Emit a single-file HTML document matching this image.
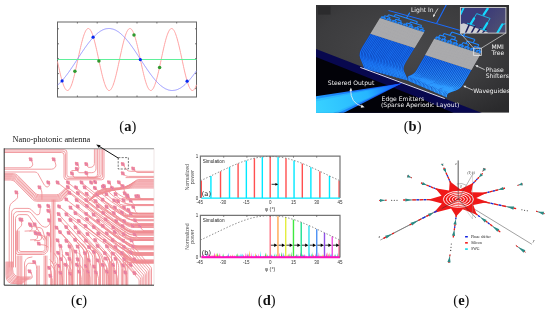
<!DOCTYPE html>
<html><head><meta charset="utf-8"><title>Figure</title>
<style>
html,body{margin:0;padding:0;background:#fff;}
svg{display:block}
.dv{font-family:"DejaVu Sans","Liberation Sans",sans-serif}
.ls{font-family:"Liberation Sans",sans-serif}
.lr{font-family:"Liberation Serif",serif}
</style></head><body>
<svg width="550" height="313" viewBox="0 0 550 313">
<rect width="550" height="313" fill="#fff"/>
<rect x="57.5" y="22" width="139.0" height="75" fill="#fff" stroke="#666" stroke-width="1"/>
<path d="M77.4 22v1.5M77.4 97v-1.5" stroke="#555" stroke-width="0.8"/>
<path d="M97.2 22v1.5M97.2 97v-1.5" stroke="#555" stroke-width="0.8"/>
<path d="M117.1 22v1.5M117.1 97v-1.5" stroke="#555" stroke-width="0.8"/>
<path d="M137.0 22v1.5M137.0 97v-1.5" stroke="#555" stroke-width="0.8"/>
<path d="M156.9 22v1.5M156.9 97v-1.5" stroke="#555" stroke-width="0.8"/>
<path d="M176.7 22v1.5M176.7 97v-1.5" stroke="#555" stroke-width="0.8"/>
<path d="M57.5 28.8h1.5M196.5 28.8h-1.5" stroke="#555" stroke-width="0.8"/>
<path d="M57.5 43.8h1.5M196.5 43.8h-1.5" stroke="#555" stroke-width="0.8"/>
<path d="M57.5 58.7h1.5M196.5 58.7h-1.5" stroke="#555" stroke-width="0.8"/>
<path d="M57.5 73.6h1.5M196.5 73.6h-1.5" stroke="#555" stroke-width="0.8"/>
<path d="M57.5 88.6h1.5M196.5 88.6h-1.5" stroke="#555" stroke-width="0.8"/>
<polyline points="57.5,61.5 58.0,63.9 58.5,66.2 59.0,68.4 59.5,70.6 60.0,72.8 60.5,74.9 61.0,76.9 61.5,78.7 62.0,80.5 62.5,82.2 63.0,83.7 63.5,85.1 64.0,86.3 64.5,87.4 65.0,88.4 65.5,89.1 66.0,89.7 66.5,90.2 67.0,90.4 67.5,90.5 68.0,90.4 68.5,90.1 69.0,89.7 69.5,89.1 70.0,88.3 70.5,87.3 71.0,86.2 71.5,85.0 72.0,83.6 72.5,82.0 73.0,80.3 73.5,78.6 74.0,76.7 74.5,74.7 75.0,72.6 75.5,70.4 76.0,68.2 76.5,65.9 77.0,63.6 77.5,61.3 78.0,59.0 78.5,56.6 79.0,54.3 79.5,52.0 80.0,49.8 80.5,47.6 81.0,45.5 81.5,43.4 82.0,41.5 82.5,39.6 83.0,37.9 83.5,36.3 84.0,34.8 84.5,33.5 85.0,32.3 85.5,31.2 86.0,30.3 86.5,29.6 87.0,29.1 87.5,28.7 88.0,28.5 88.5,28.5 89.0,28.7 89.5,29.0 90.0,29.5 90.5,30.2 91.0,31.0 91.5,32.0 92.0,33.2 92.5,34.5 93.0,36.0 93.5,37.6 94.0,39.3 94.5,41.1 95.0,43.0 95.5,45.1 96.0,47.2 96.5,49.3 97.0,51.6 97.5,53.9 98.0,56.2 98.5,58.5 99.0,60.8 99.5,63.2 100.0,65.5 100.5,67.8 101.0,70.0 101.5,72.2 102.0,74.3 102.5,76.3 103.0,78.2 103.5,80.0 104.0,81.7 104.5,83.3 105.0,84.7 105.5,86.0 106.0,87.1 106.5,88.1 107.0,88.9 107.5,89.6 108.0,90.1 108.5,90.4 109.0,90.5 109.5,90.5 110.0,90.2 110.5,89.8 111.0,89.3 111.5,88.5 112.0,87.6 112.5,86.6 113.0,85.4 113.5,84.0 114.0,82.5 114.5,80.9 115.0,79.1 115.5,77.2 116.0,75.3 116.5,73.2 117.0,71.1 117.5,68.9 118.0,66.6 118.5,64.3 119.0,62.0 119.5,59.7 120.0,57.3 120.5,55.0 121.0,52.7 121.5,50.5 122.0,48.2 122.5,46.1 123.0,44.0 123.5,42.1 124.0,40.2 124.5,38.4 125.0,36.7 125.5,35.2 126.0,33.8 126.5,32.6 127.0,31.5 127.5,30.6 128.0,29.8 128.5,29.2 129.0,28.8 129.5,28.6 130.0,28.5 130.5,28.6 131.0,28.9 131.5,29.3 132.0,30.0 132.5,30.8 133.0,31.7 133.5,32.8 134.0,34.1 134.5,35.5 135.0,37.1 135.5,38.7 136.0,40.5 136.5,42.4 137.0,44.4 137.5,46.5 138.0,48.7 138.5,50.9 139.0,53.2 139.5,55.5 140.0,57.8 140.5,60.1 141.0,62.5 141.5,64.8 142.0,67.1 142.5,69.3 143.0,71.5 143.5,73.6 144.0,75.7 144.5,77.6 145.0,79.5 145.5,81.2 146.0,82.8 146.5,84.3 147.0,85.6 147.5,86.8 148.0,87.8 148.5,88.7 149.0,89.4 149.5,89.9 150.0,90.3 150.5,90.5 151.0,90.5 151.5,90.3 152.0,90.0 152.5,89.5 153.0,88.8 153.5,87.9 154.0,86.9 154.5,85.7 155.0,84.4 155.5,83.0 156.0,81.4 156.5,79.6 157.0,77.8 157.5,75.9 158.0,73.8 158.5,71.7 159.0,69.5 159.5,67.3 160.0,65.0 160.5,62.7 161.0,60.4 161.5,58.0 162.0,55.7 162.5,53.4 163.0,51.1 163.5,48.9 164.0,46.7 164.5,44.6 165.0,42.6 165.5,40.7 166.0,38.9 166.5,37.2 167.0,35.7 167.5,34.2 168.0,33.0 168.5,31.8 169.0,30.9 169.5,30.0 170.0,29.4 170.5,28.9 171.0,28.6 171.5,28.5 172.0,28.6 172.5,28.8 173.0,29.2 173.5,29.8 174.0,30.5 174.5,31.4 175.0,32.5 175.5,33.7 176.0,35.1 176.5,36.6 177.0,38.2 177.5,40.0 178.0,41.9 178.5,43.8 179.0,45.9 179.5,48.0 180.0,50.2 180.5,52.5 181.0,54.8 181.5,57.1 182.0,59.4 182.5,61.8 183.0,64.1 183.5,66.4 184.0,68.7 184.5,70.9 185.0,73.0 185.5,75.1 186.0,77.0 186.5,78.9 187.0,80.7 187.5,82.3 188.0,83.8 188.5,85.2 189.0,86.5 189.5,87.5 190.0,88.4 190.5,89.2 191.0,89.8 191.5,90.2 192.0,90.4 192.5,90.5 193.0,90.4 193.5,90.1 194.0,89.6 194.5,89.0 195.0,88.2 195.5,87.2 196.0,86.1 196.5,84.8" fill="none" stroke="#ff9a9a" stroke-width="0.9"/>
<polyline points="57.5,85.2 58.0,84.7 58.5,84.3 59.0,83.8 59.5,83.3 60.0,82.8 60.5,82.3 61.0,81.8 61.5,81.3 62.0,80.7 62.5,80.1 63.0,79.6 63.5,79.0 64.0,78.4 64.5,77.7 65.0,77.1 65.5,76.5 66.0,75.8 66.5,75.2 67.0,74.5 67.5,73.8 68.0,73.1 68.5,72.5 69.0,71.8 69.5,71.0 70.0,70.3 70.5,69.6 71.0,68.9 71.5,68.1 72.0,67.4 72.5,66.7 73.0,65.9 73.5,65.2 74.0,64.4 74.5,63.6 75.0,62.9 75.5,62.1 76.0,61.3 76.5,60.6 77.0,59.8 77.5,59.0 78.0,58.3 78.5,57.5 79.0,56.7 79.5,56.0 80.0,55.2 80.5,54.5 81.0,53.7 81.5,52.9 82.0,52.2 82.5,51.5 83.0,50.7 83.5,50.0 84.0,49.3 84.5,48.5 85.0,47.8 85.5,47.1 86.0,46.4 86.5,45.7 87.0,45.0 87.5,44.4 88.0,43.7 88.5,43.0 89.0,42.4 89.5,41.8 90.0,41.1 90.5,40.5 91.0,39.9 91.5,39.3 92.0,38.7 92.5,38.2 93.0,37.6 93.5,37.1 94.0,36.6 94.5,36.1 95.0,35.6 95.5,35.1 96.0,34.6 96.5,34.2 97.0,33.7 97.5,33.3 98.0,32.9 98.5,32.5 99.0,32.2 99.5,31.8 100.0,31.5 100.5,31.1 101.0,30.8 101.5,30.6 102.0,30.3 102.5,30.0 103.0,29.8 103.5,29.6 104.0,29.4 104.5,29.2 105.0,29.1 105.5,28.9 106.0,28.8 106.5,28.7 107.0,28.6 107.5,28.6 108.0,28.5 108.5,28.5 109.0,28.5 109.5,28.5 110.0,28.5 110.5,28.6 111.0,28.7 111.5,28.8 112.0,28.9 112.5,29.0 113.0,29.1 113.5,29.3 114.0,29.5 114.5,29.7 115.0,29.9 115.5,30.1 116.0,30.4 116.5,30.7 117.0,31.0 117.5,31.3 118.0,31.6 118.5,31.9 119.0,32.3 119.5,32.7 120.0,33.1 120.5,33.5 121.0,33.9 121.5,34.3 122.0,34.8 122.5,35.3 123.0,35.8 123.5,36.3 124.0,36.8 124.5,37.3 125.0,37.9 125.5,38.4 126.0,39.0 126.5,39.6 127.0,40.2 127.5,40.8 128.0,41.4 128.5,42.0 129.0,42.6 129.5,43.3 130.0,44.0 130.5,44.6 131.0,45.3 131.5,46.0 132.0,46.7 132.5,47.4 133.0,48.1 133.5,48.8 134.0,49.5 134.5,50.3 135.0,51.0 135.5,51.7 136.0,52.5 136.5,53.2 137.0,54.0 137.5,54.8 138.0,55.5 138.5,56.3 139.0,57.0 139.5,57.8 140.0,58.6 140.5,59.3 141.0,60.1 141.5,60.9 142.0,61.6 142.5,62.4 143.0,63.2 143.5,63.9 144.0,64.7 144.5,65.5 145.0,66.2 145.5,67.0 146.0,67.7 146.5,68.4 147.0,69.2 147.5,69.9 148.0,70.6 148.5,71.3 149.0,72.0 149.5,72.7 150.0,73.4 150.5,74.1 151.0,74.8 151.5,75.4 152.0,76.1 152.5,76.7 153.0,77.4 153.5,78.0 154.0,78.6 154.5,79.2 155.0,79.8 155.5,80.4 156.0,80.9 156.5,81.5 157.0,82.0 157.5,82.5 158.0,83.0 158.5,83.5 159.0,84.0 159.5,84.5 160.0,84.9 160.5,85.3 161.0,85.8 161.5,86.2 162.0,86.5 162.5,86.9 163.0,87.3 163.5,87.6 164.0,87.9 164.5,88.2 165.0,88.5 165.5,88.8 166.0,89.0 166.5,89.2 167.0,89.4 167.5,89.6 168.0,89.8 168.5,90.0 169.0,90.1 169.5,90.2 170.0,90.3 170.5,90.4 171.0,90.4 171.5,90.5 172.0,90.5 172.5,90.5 173.0,90.5 173.5,90.4 174.0,90.4 174.5,90.3 175.0,90.2 175.5,90.1 176.0,90.0 176.5,89.8 177.0,89.7 177.5,89.5 178.0,89.3 178.5,89.0 179.0,88.8 179.5,88.5 180.0,88.3 180.5,88.0 181.0,87.7 181.5,87.3 182.0,87.0 182.5,86.6 183.0,86.2 183.5,85.8 184.0,85.4 184.5,85.0 185.0,84.6 185.5,84.1 186.0,83.6 186.5,83.1 187.0,82.6 187.5,82.1 188.0,81.6 188.5,81.0 189.0,80.5 189.5,79.9 190.0,79.3 190.5,78.7 191.0,78.1 191.5,77.5 192.0,76.9 192.5,76.2 193.0,75.6 193.5,74.9 194.0,74.2 194.5,73.6 195.0,72.9 195.5,72.2 196.0,71.5 196.5,70.8" fill="none" stroke="#8c8cff" stroke-width="0.9"/>
<line x1="57.5" y1="59.5" x2="196.5" y2="59.5" stroke="#5ff09a" stroke-width="1"/>
<circle cx="62.1" cy="80.9" r="1.6" fill="#0828f0"/>
<circle cx="93.1" cy="37.2" r="1.6" fill="#0828f0"/>
<circle cx="140.3" cy="59.6" r="1.6" fill="#0828f0"/>
<circle cx="187.1" cy="81.2" r="1.6" fill="#0828f0"/>
<circle cx="74.9" cy="71.3" r="1.75" fill="#2f9a2f"/>
<circle cx="98.9" cy="61.1" r="1.75" fill="#2f9a2f"/>
<circle cx="134" cy="34.9" r="1.75" fill="#2f9a2f"/>
<circle cx="159.6" cy="67.5" r="1.75" fill="#2f9a2f"/>
<defs>
<clipPath id="clipB"><rect x="316" y="5" width="193.10000000000002" height="107.8"/></clipPath>
<radialGradient id="bgB" cx="0.45" cy="0.4" r="0.75"><stop offset="0" stop-color="#48484a"/><stop offset="0.6" stop-color="#3c3c3e"/><stop offset="1" stop-color="#2a2a2c"/></radialGradient>
<linearGradient id="beamB" gradientUnits="userSpaceOnUse" x1="402" y1="83" x2="316" y2="110"><stop offset="0" stop-color="#1448ff"/><stop offset="0.2" stop-color="#1a80ff"/><stop offset="0.4" stop-color="#26b6ff"/><stop offset="1" stop-color="#38d2ff"/></linearGradient>
<linearGradient id="beamFade" gradientUnits="userSpaceOnUse" x1="330" y1="88" x2="338" y2="114"><stop offset="0" stop-color="#0030b0" stop-opacity="0.75"/><stop offset="0.16" stop-color="#0030b0" stop-opacity="0"/><stop offset="0.8" stop-color="#0030b0" stop-opacity="0"/><stop offset="1" stop-color="#0030b0" stop-opacity="0.7"/></linearGradient>
<clipPath id="clipInset"><rect x="460.4" y="7.5" width="45.5" height="25.6"/></clipPath><linearGradient id="insB" x1="0" y1="0" x2="1" y2="0.5"><stop offset="0" stop-color="#383c7c"/><stop offset="0.5" stop-color="#3c3c78"/><stop offset="1" stop-color="#4c4c72"/></linearGradient>
<linearGradient id="wgB" gradientUnits="userSpaceOnUse" x1="0" y1="30" x2="0" y2="98"><stop offset="0" stop-color="#1467ea"/><stop offset="0.45" stop-color="#176ff0"/><stop offset="0.8" stop-color="#2c98ff"/><stop offset="1" stop-color="#38a8ff"/></linearGradient>
<linearGradient id="beamO" gradientUnits="userSpaceOnUse" x1="402" y1="83" x2="316" y2="110"><stop offset="0" stop-color="#1038e8"/><stop offset="0.4" stop-color="#1868f4"/><stop offset="1" stop-color="#20a0ff"/></linearGradient>
</defs>
<g clip-path="url(#clipB)">
<rect x="316" y="5" width="193.10000000000002" height="107.8" fill="url(#bgB)"/>
<rect x="318" y="6.3" width="12.5" height="8.3" fill="#2b2b2d"/>
<polygon points="316,49.1 509,123.4 509,113 316,113" fill="#08084e"/>
<polygon points="316,57.1 420,98.2 509,137.4 509,113 316,113" fill="#020208"/>
<polygon points="402,83.3 316,96.3 316,113 343.5,113" fill="url(#beamO)"/>
<polygon points="402,83.3 316,99.0 316,113 338,113" fill="url(#beamB)" opacity="0.75"/>
<polygon points="402,83.3 316,101.6 316,113 333,113" fill="url(#beamB)"/>
<polygon points="414.6,48.0 406.0,62.1 404.6,64.7 403.8,66.9 403.6,68.7 403.7,70.4 404.2,71.8 404.9,73.3 405.6,74.8 406.4,76.4 407.1,78.3 407.5,80.5 364.0,68.5 363.5,66.2 362.8,64.2 362.0,62.3 361.1,60.5 360.3,58.7 359.8,56.9 359.5,54.9 359.7,52.8 360.4,50.5 361.8,47.8 370.4,33.7" fill="#0b3cae"/>
<path d="M371.1,33.9 L362.5,48.1 C356.7,57.5 363.7,60.7 364.7,68.7 M372.6,34.4 L364.0,48.5 C358.2,58.0 365.2,61.1 366.2,69.1 M374.1,34.9 L365.4,49.0 C359.7,58.4 366.6,61.5 367.6,69.5 M375.6,35.4 L366.9,49.5 C361.2,58.9 368.1,61.9 369.1,69.9 M377.0,35.8 L368.4,50.0 C362.6,59.4 369.5,62.3 370.5,70.3 M378.5,36.3 L369.9,50.5 C364.1,59.9 371.0,62.7 372.0,70.7 M380.0,36.8 L371.3,50.9 C365.6,60.3 372.4,63.1 373.4,71.1 M381.4,37.3 L372.8,51.4 C367.1,60.8 373.9,63.5 374.9,71.5 M382.9,37.8 L374.3,51.9 C368.5,61.3 375.3,63.9 376.3,71.9 M384.4,38.2 L375.8,52.4 C370.0,61.8 376.8,64.3 377.8,72.3 M385.9,38.7 L377.2,52.8 C371.5,62.3 378.2,64.7 379.2,72.7 M387.3,39.2 L378.7,53.3 C372.9,62.7 379.7,65.1 380.7,73.1 M388.8,39.7 L380.2,53.8 C374.4,63.2 381.1,65.5 382.1,73.5 M390.3,40.1 L381.6,54.3 C375.9,63.7 382.6,65.9 383.6,73.9 M391.8,40.6 L383.1,54.7 C377.4,64.2 384.0,66.3 385.0,74.3 M393.2,41.1 L384.6,55.2 C378.8,64.6 385.5,66.7 386.5,74.7 M394.7,41.6 L386.1,55.7 C380.3,65.1 386.9,67.1 387.9,75.1 M396.2,42.0 L387.5,56.2 C381.8,65.6 388.4,67.5 389.4,75.5 M397.7,42.5 L389.0,56.6 C383.3,66.1 389.8,67.9 390.8,75.9 M399.1,43.0 L390.5,57.1 C384.7,66.5 391.3,68.3 392.3,76.3 M400.6,43.5 L392.0,57.6 C386.2,67.0 392.7,68.7 393.7,76.7 M402.1,43.9 L393.4,58.1 C387.7,67.5 394.2,69.1 395.2,77.1 M403.5,44.4 L394.9,58.6 C389.1,68.0 395.6,69.5 396.6,77.5 M405.0,44.9 L396.4,59.0 C390.6,68.5 397.1,69.9 398.1,77.9 M406.5,45.4 L397.9,59.5 C392.1,68.9 398.5,70.3 399.5,78.3 M408.0,45.9 L399.3,60.0 C393.6,69.4 400.0,70.7 401.0,78.7 M409.4,46.3 L400.8,60.5 C395.0,69.9 401.4,71.1 402.4,79.1 M410.9,46.8 L402.3,60.9 C396.5,70.4 402.9,71.5 403.9,79.5 M412.4,47.3 L403.8,61.4 C398.0,70.8 404.3,71.9 405.3,79.9 M413.9,47.8 L405.2,61.9 C399.5,71.3 405.8,72.3 406.8,80.3" fill="none" stroke="url(#wgB)" stroke-width="1.05"/>
<polygon points="380.0,18.0 424.2,32.3 414.6,48.0 370.4,33.7" fill="#b4b4b6"/>
<path d="M380.7,18.2 L371.1,33.9" stroke="#97979b" stroke-width="0.35"/>
<path d="M381.5,18.5 L371.9,34.2" stroke="#97979b" stroke-width="0.35"/>
<path d="M382.2,18.7 L372.6,34.4" stroke="#97979b" stroke-width="0.35"/>
<path d="M382.9,19.0 L373.3,34.7" stroke="#97979b" stroke-width="0.35"/>
<path d="M383.7,19.2 L374.1,34.9" stroke="#97979b" stroke-width="0.35"/>
<path d="M384.4,19.4 L374.8,35.1" stroke="#97979b" stroke-width="0.35"/>
<path d="M385.2,19.7 L375.6,35.4" stroke="#97979b" stroke-width="0.35"/>
<path d="M385.9,19.9 L376.3,35.6" stroke="#97979b" stroke-width="0.35"/>
<path d="M386.6,20.1 L377.0,35.8" stroke="#97979b" stroke-width="0.35"/>
<path d="M387.4,20.4 L377.8,36.1" stroke="#97979b" stroke-width="0.35"/>
<path d="M388.1,20.6 L378.5,36.3" stroke="#97979b" stroke-width="0.35"/>
<path d="M388.8,20.9 L379.2,36.6" stroke="#97979b" stroke-width="0.35"/>
<path d="M389.6,21.1 L380.0,36.8" stroke="#97979b" stroke-width="0.35"/>
<path d="M390.3,21.3 L380.7,37.0" stroke="#97979b" stroke-width="0.35"/>
<path d="M391.1,21.6 L381.4,37.3" stroke="#97979b" stroke-width="0.35"/>
<path d="M391.8,21.8 L382.2,37.5" stroke="#97979b" stroke-width="0.35"/>
<path d="M392.5,22.1 L382.9,37.8" stroke="#97979b" stroke-width="0.35"/>
<path d="M393.3,22.3 L383.7,38.0" stroke="#97979b" stroke-width="0.35"/>
<path d="M394.0,22.5 L384.4,38.2" stroke="#97979b" stroke-width="0.35"/>
<path d="M394.7,22.8 L385.1,38.5" stroke="#97979b" stroke-width="0.35"/>
<path d="M395.5,23.0 L385.9,38.7" stroke="#97979b" stroke-width="0.35"/>
<path d="M396.2,23.2 L386.6,38.9" stroke="#97979b" stroke-width="0.35"/>
<path d="M396.9,23.5 L387.3,39.2" stroke="#97979b" stroke-width="0.35"/>
<path d="M397.7,23.7 L388.1,39.4" stroke="#97979b" stroke-width="0.35"/>
<path d="M398.4,24.0 L388.8,39.7" stroke="#97979b" stroke-width="0.35"/>
<path d="M399.2,24.2 L389.6,39.9" stroke="#97979b" stroke-width="0.35"/>
<path d="M399.9,24.4 L390.3,40.1" stroke="#97979b" stroke-width="0.35"/>
<path d="M400.6,24.7 L391.0,40.4" stroke="#97979b" stroke-width="0.35"/>
<path d="M401.4,24.9 L391.8,40.6" stroke="#97979b" stroke-width="0.35"/>
<path d="M402.1,25.1 L392.5,40.8" stroke="#97979b" stroke-width="0.35"/>
<path d="M402.8,25.4 L393.2,41.1" stroke="#97979b" stroke-width="0.35"/>
<path d="M403.6,25.6 L394.0,41.3" stroke="#97979b" stroke-width="0.35"/>
<path d="M404.3,25.9 L394.7,41.6" stroke="#97979b" stroke-width="0.35"/>
<path d="M405.0,26.1 L395.4,41.8" stroke="#97979b" stroke-width="0.35"/>
<path d="M405.8,26.3 L396.2,42.0" stroke="#97979b" stroke-width="0.35"/>
<path d="M406.5,26.6 L396.9,42.3" stroke="#97979b" stroke-width="0.35"/>
<path d="M407.3,26.8 L397.7,42.5" stroke="#97979b" stroke-width="0.35"/>
<path d="M408.0,27.1 L398.4,42.8" stroke="#97979b" stroke-width="0.35"/>
<path d="M408.7,27.3 L399.1,43.0" stroke="#97979b" stroke-width="0.35"/>
<path d="M409.5,27.5 L399.9,43.2" stroke="#97979b" stroke-width="0.35"/>
<path d="M410.2,27.8 L400.6,43.5" stroke="#97979b" stroke-width="0.35"/>
<path d="M410.9,28.0 L401.3,43.7" stroke="#97979b" stroke-width="0.35"/>
<path d="M411.7,28.2 L402.1,43.9" stroke="#97979b" stroke-width="0.35"/>
<path d="M412.4,28.5 L402.8,44.2" stroke="#97979b" stroke-width="0.35"/>
<path d="M413.1,28.7 L403.5,44.4" stroke="#97979b" stroke-width="0.35"/>
<path d="M413.9,29.0 L404.3,44.7" stroke="#97979b" stroke-width="0.35"/>
<path d="M414.6,29.2 L405.0,44.9" stroke="#97979b" stroke-width="0.35"/>
<path d="M415.4,29.4 L405.8,45.1" stroke="#97979b" stroke-width="0.35"/>
<path d="M416.1,29.7 L406.5,45.4" stroke="#97979b" stroke-width="0.35"/>
<path d="M416.8,29.9 L407.2,45.6" stroke="#97979b" stroke-width="0.35"/>
<path d="M417.6,30.2 L408.0,45.9" stroke="#97979b" stroke-width="0.35"/>
<path d="M418.3,30.4 L408.7,46.1" stroke="#97979b" stroke-width="0.35"/>
<path d="M419.0,30.6 L409.4,46.3" stroke="#97979b" stroke-width="0.35"/>
<path d="M419.8,30.9 L410.2,46.6" stroke="#97979b" stroke-width="0.35"/>
<path d="M420.5,31.1 L410.9,46.8" stroke="#97979b" stroke-width="0.35"/>
<path d="M421.3,31.3 L411.7,47.0" stroke="#97979b" stroke-width="0.35"/>
<path d="M422.0,31.6 L412.4,47.3" stroke="#97979b" stroke-width="0.35"/>
<path d="M422.7,31.8 L413.1,47.5" stroke="#97979b" stroke-width="0.35"/>
<path d="M423.5,32.1 L413.9,47.8" stroke="#97979b" stroke-width="0.35"/>
<path d="M407.9,15.7L406.4,18.1 M395.4,14.5L417.5,21.7 M395.4,14.5L394.1,16.6 M388.6,14.8L399.6,18.3 M388.6,14.8L387.4,16.6 M384.7,15.8L390.2,17.5 M384.7,15.8L383.7,17.3 M382.3,16.9L385.1,17.8 M382.3,16.9L381.4,18.4 M385.1,17.8L384.1,19.3 M390.2,17.5L389.2,19.1 M387.9,18.7L390.6,19.6 M387.9,18.7L386.9,20.2 M390.6,19.6L389.7,21.1 M399.6,18.3L398.5,20.2 M395.7,19.3L401.3,21.1 M395.7,19.3L394.8,20.9 M393.4,20.5L396.2,21.3 M393.4,20.5L392.4,22.0 M396.2,21.3L395.2,22.9 M401.3,21.1L400.3,22.7 M398.9,22.2L401.7,23.1 M398.9,22.2L398.0,23.8 M401.7,23.1L400.7,24.7 M417.5,21.7L416.2,23.7 M410.7,21.9L421.7,25.5 M410.7,21.9L409.5,23.8 M406.8,22.9L412.3,24.7 M406.8,22.9L405.8,24.5 M404.4,24.0L407.2,24.9 M404.4,24.0L403.5,25.6 M407.2,24.9L406.2,26.5 M412.3,24.7L411.3,26.3 M410.0,25.8L412.7,26.7 M410.0,25.8L409.0,27.4 M412.7,26.7L411.8,28.3 M421.7,25.5L420.6,27.4 M417.8,26.5L423.4,28.3 M417.8,26.5L416.9,28.0 M415.5,27.6L418.3,28.5 M415.5,27.6L414.5,29.2 M418.3,28.5L417.3,30.1 M423.4,28.3L422.4,29.8 M421.0,29.4L423.8,30.3 M421.0,29.4L420.1,31.0 M423.8,30.3L422.8,31.9" fill="none" stroke="#1f86ff" stroke-width="1.1"/>
<path d="M381.6,16.6L383.0,17.1M381.6,16.6L380.7,18.2M383.0,17.1L382.1,18.7" stroke="#1f86ff" stroke-width="0.8" fill="none"/>
<path d="M384.4,17.5L385.8,18.0M384.4,17.5L383.4,19.1M385.8,18.0L384.9,19.6" stroke="#1f86ff" stroke-width="0.8" fill="none"/>
<path d="M387.2,18.4L388.6,18.9M387.2,18.4L386.2,20.0M388.6,18.9L387.6,20.5" stroke="#1f86ff" stroke-width="0.8" fill="none"/>
<path d="M389.9,19.3L391.3,19.8M389.9,19.3L389.0,20.9M391.3,19.8L390.4,21.4" stroke="#1f86ff" stroke-width="0.8" fill="none"/>
<path d="M392.7,20.2L394.1,20.7M392.7,20.2L391.7,21.8M394.1,20.7L393.1,22.3" stroke="#1f86ff" stroke-width="0.8" fill="none"/>
<path d="M395.4,21.1L396.9,21.6M395.4,21.1L394.5,22.7M396.9,21.6L395.9,23.1" stroke="#1f86ff" stroke-width="0.8" fill="none"/>
<path d="M398.2,22.0L399.6,22.5M398.2,22.0L397.2,23.6M399.6,22.5L398.7,24.0" stroke="#1f86ff" stroke-width="0.8" fill="none"/>
<path d="M401.0,22.9L402.4,23.4M401.0,22.9L400.0,24.5M402.4,23.4L401.4,24.9" stroke="#1f86ff" stroke-width="0.8" fill="none"/>
<path d="M403.7,23.8L405.1,24.3M403.7,23.8L402.8,25.4M405.1,24.3L404.2,25.8" stroke="#1f86ff" stroke-width="0.8" fill="none"/>
<path d="M406.5,24.7L407.9,25.1M406.5,24.7L405.5,26.3M407.9,25.1L407.0,26.7" stroke="#1f86ff" stroke-width="0.8" fill="none"/>
<path d="M409.3,25.6L410.7,26.0M409.3,25.6L408.3,27.2M410.7,26.0L409.7,27.6" stroke="#1f86ff" stroke-width="0.8" fill="none"/>
<path d="M412.0,26.5L413.4,26.9M412.0,26.5L411.1,28.0M413.4,26.9L412.5,28.5" stroke="#1f86ff" stroke-width="0.8" fill="none"/>
<path d="M414.8,27.4L416.2,27.8M414.8,27.4L413.8,28.9M416.2,27.8L415.2,29.4" stroke="#1f86ff" stroke-width="0.8" fill="none"/>
<path d="M417.5,28.3L419.0,28.7M417.5,28.3L416.6,29.8M419.0,28.7L418.0,30.3" stroke="#1f86ff" stroke-width="0.8" fill="none"/>
<path d="M420.3,29.2L421.7,29.6M420.3,29.2L419.3,30.7M421.7,29.6L420.8,31.2" stroke="#1f86ff" stroke-width="0.8" fill="none"/>
<path d="M423.1,30.1L424.5,30.5M423.1,30.1L422.1,31.6M424.5,30.5L423.5,32.1" stroke="#1f86ff" stroke-width="0.8" fill="none"/>
<path d="M408.1,15.4L409.8,12.6" stroke="#1f86ff" stroke-width="1.1"/>
<polygon points="471.5,69.9 463.2,84.5 461.4,87.0 459.3,88.8 457.1,90.1 454.8,91.0 452.7,91.6 450.7,92.3 449.0,93.0 447.8,94.0 447.1,95.5 447.0,97.5 407.5,80.5 407.4,78.5 407.6,77.2 408.0,76.4 408.8,76.0 409.7,75.6 410.9,75.3 412.2,74.6 413.6,73.6 415.2,71.9 416.8,69.5 425.1,54.9" fill="#0b3cae"/>
<path d="M425.9,55.2 L417.6,69.7 C412.1,79.5 407.2,72.8 408.2,80.8 M427.4,55.7 L419.1,70.2 C413.6,80.0 408.5,73.3 409.5,81.3 M429.0,56.2 L420.7,70.7 C415.2,80.5 409.8,73.9 410.8,81.9 M430.5,56.7 L422.2,71.2 C416.7,81.0 411.1,74.5 412.1,82.5 M432.1,57.2 L423.8,71.7 C418.3,81.5 412.4,75.0 413.4,83.0 M433.6,57.7 L425.3,72.2 C419.8,82.0 413.7,75.6 414.7,83.6 M435.2,58.2 L426.9,72.7 C421.4,82.5 415.1,76.2 416.1,84.2 M436.7,58.7 L428.4,73.2 C422.9,83.0 416.4,76.8 417.4,84.8 M438.2,59.2 L430.0,73.7 C424.4,83.5 417.7,77.3 418.7,85.3 M439.8,59.7 L431.5,74.2 C426.0,84.0 419.0,77.9 420.0,85.9 M441.3,60.2 L433.1,74.7 C427.5,84.5 420.3,78.5 421.3,86.5 M442.9,60.7 L434.6,75.2 C429.1,85.0 421.6,79.0 422.6,87.0 M444.4,61.2 L436.2,75.7 C430.6,85.5 423.0,79.6 424.0,87.6 M446.0,61.7 L437.7,76.2 C432.2,86.0 424.3,80.2 425.3,88.2 M447.5,62.2 L439.2,76.7 C433.7,86.5 425.6,80.7 426.6,88.7 M449.1,62.7 L440.8,77.2 C435.3,87.0 426.9,81.3 427.9,89.3 M450.6,63.2 L442.3,77.7 C436.8,87.5 428.2,81.8 429.2,89.8 M452.2,63.7 L443.9,78.2 C438.4,88.0 429.5,82.4 430.5,90.4 M453.7,64.2 L445.4,78.7 C439.9,88.5 430.9,83.0 431.9,91.0 M455.3,64.7 L447.0,79.2 C441.5,89.0 432.2,83.5 433.2,91.5 M456.8,65.2 L448.5,79.7 C443.0,89.5 433.5,84.1 434.5,92.1 M458.4,65.7 L450.1,80.2 C444.6,90.0 434.8,84.7 435.8,92.7 M459.9,66.2 L451.6,80.7 C446.1,90.5 436.1,85.2 437.1,93.2 M461.4,66.7 L453.2,81.2 C447.6,91.0 437.4,85.8 438.4,93.8 M463.0,67.2 L454.7,81.7 C449.2,91.5 438.8,86.4 439.8,94.4 M464.5,67.7 L456.3,82.2 C450.7,92.0 440.1,87.0 441.1,95.0 M466.1,68.2 L457.8,82.7 C452.3,92.5 441.4,87.5 442.4,95.5 M467.6,68.7 L459.4,83.2 C453.8,93.0 442.7,88.1 443.7,96.1 M469.2,69.2 L460.9,83.7 C455.4,93.5 444.0,88.7 445.0,96.7 M470.7,69.7 L462.4,84.2 C456.9,94.0 445.3,89.2 446.3,97.2" fill="none" stroke="url(#wgB)" stroke-width="1.05"/>
<polygon points="434.3,38.7 480.7,53.7 471.5,69.9 425.1,54.9" fill="#b4b4b6"/>
<path d="M435.1,39.0 L425.9,55.2" stroke="#97979b" stroke-width="0.35"/>
<path d="M435.8,39.2 L426.6,55.4" stroke="#97979b" stroke-width="0.35"/>
<path d="M436.6,39.5 L427.4,55.7" stroke="#97979b" stroke-width="0.35"/>
<path d="M437.4,39.7 L428.2,55.9" stroke="#97979b" stroke-width="0.35"/>
<path d="M438.2,40.0 L429.0,56.2" stroke="#97979b" stroke-width="0.35"/>
<path d="M438.9,40.2 L429.7,56.4" stroke="#97979b" stroke-width="0.35"/>
<path d="M439.7,40.5 L430.5,56.7" stroke="#97979b" stroke-width="0.35"/>
<path d="M440.5,40.7 L431.3,56.9" stroke="#97979b" stroke-width="0.35"/>
<path d="M441.3,41.0 L432.1,57.2" stroke="#97979b" stroke-width="0.35"/>
<path d="M442.0,41.2 L432.8,57.4" stroke="#97979b" stroke-width="0.35"/>
<path d="M442.8,41.5 L433.6,57.7" stroke="#97979b" stroke-width="0.35"/>
<path d="M443.6,41.7 L434.4,57.9" stroke="#97979b" stroke-width="0.35"/>
<path d="M444.4,42.0 L435.2,58.2" stroke="#97979b" stroke-width="0.35"/>
<path d="M445.1,42.2 L435.9,58.4" stroke="#97979b" stroke-width="0.35"/>
<path d="M445.9,42.5 L436.7,58.7" stroke="#97979b" stroke-width="0.35"/>
<path d="M446.7,42.7 L437.5,58.9" stroke="#97979b" stroke-width="0.35"/>
<path d="M447.4,43.0 L438.2,59.2" stroke="#97979b" stroke-width="0.35"/>
<path d="M448.2,43.2 L439.0,59.4" stroke="#97979b" stroke-width="0.35"/>
<path d="M449.0,43.5 L439.8,59.7" stroke="#97979b" stroke-width="0.35"/>
<path d="M449.8,43.7 L440.6,59.9" stroke="#97979b" stroke-width="0.35"/>
<path d="M450.5,44.0 L441.3,60.2" stroke="#97979b" stroke-width="0.35"/>
<path d="M451.3,44.2 L442.1,60.4" stroke="#97979b" stroke-width="0.35"/>
<path d="M452.1,44.5 L442.9,60.7" stroke="#97979b" stroke-width="0.35"/>
<path d="M452.9,44.7 L443.7,60.9" stroke="#97979b" stroke-width="0.35"/>
<path d="M453.6,45.0 L444.4,61.2" stroke="#97979b" stroke-width="0.35"/>
<path d="M454.4,45.2 L445.2,61.4" stroke="#97979b" stroke-width="0.35"/>
<path d="M455.2,45.5 L446.0,61.7" stroke="#97979b" stroke-width="0.35"/>
<path d="M456.0,45.7 L446.8,61.9" stroke="#97979b" stroke-width="0.35"/>
<path d="M456.7,46.0 L447.5,62.2" stroke="#97979b" stroke-width="0.35"/>
<path d="M457.5,46.2 L448.3,62.4" stroke="#97979b" stroke-width="0.35"/>
<path d="M458.3,46.5 L449.1,62.7" stroke="#97979b" stroke-width="0.35"/>
<path d="M459.0,46.7 L449.8,62.9" stroke="#97979b" stroke-width="0.35"/>
<path d="M459.8,47.0 L450.6,63.2" stroke="#97979b" stroke-width="0.35"/>
<path d="M460.6,47.2 L451.4,63.4" stroke="#97979b" stroke-width="0.35"/>
<path d="M461.4,47.5 L452.2,63.7" stroke="#97979b" stroke-width="0.35"/>
<path d="M462.1,47.7 L452.9,63.9" stroke="#97979b" stroke-width="0.35"/>
<path d="M462.9,48.0 L453.7,64.2" stroke="#97979b" stroke-width="0.35"/>
<path d="M463.7,48.2 L454.5,64.4" stroke="#97979b" stroke-width="0.35"/>
<path d="M464.5,48.5 L455.3,64.7" stroke="#97979b" stroke-width="0.35"/>
<path d="M465.2,48.7 L456.0,64.9" stroke="#97979b" stroke-width="0.35"/>
<path d="M466.0,49.0 L456.8,65.2" stroke="#97979b" stroke-width="0.35"/>
<path d="M466.8,49.2 L457.6,65.4" stroke="#97979b" stroke-width="0.35"/>
<path d="M467.6,49.5 L458.4,65.7" stroke="#97979b" stroke-width="0.35"/>
<path d="M468.3,49.7 L459.1,65.9" stroke="#97979b" stroke-width="0.35"/>
<path d="M469.1,50.0 L459.9,66.2" stroke="#97979b" stroke-width="0.35"/>
<path d="M469.9,50.2 L460.7,66.4" stroke="#97979b" stroke-width="0.35"/>
<path d="M470.6,50.5 L461.4,66.7" stroke="#97979b" stroke-width="0.35"/>
<path d="M471.4,50.7 L462.2,66.9" stroke="#97979b" stroke-width="0.35"/>
<path d="M472.2,51.0 L463.0,67.2" stroke="#97979b" stroke-width="0.35"/>
<path d="M473.0,51.2 L463.8,67.4" stroke="#97979b" stroke-width="0.35"/>
<path d="M473.7,51.5 L464.5,67.7" stroke="#97979b" stroke-width="0.35"/>
<path d="M474.5,51.7 L465.3,67.9" stroke="#97979b" stroke-width="0.35"/>
<path d="M475.3,52.0 L466.1,68.2" stroke="#97979b" stroke-width="0.35"/>
<path d="M476.1,52.2 L466.9,68.4" stroke="#97979b" stroke-width="0.35"/>
<path d="M476.8,52.5 L467.6,68.7" stroke="#97979b" stroke-width="0.35"/>
<path d="M477.6,52.7 L468.4,68.9" stroke="#97979b" stroke-width="0.35"/>
<path d="M478.4,53.0 L469.2,69.2" stroke="#97979b" stroke-width="0.35"/>
<path d="M479.2,53.2 L470.0,69.4" stroke="#97979b" stroke-width="0.35"/>
<path d="M479.9,53.5 L470.7,69.7" stroke="#97979b" stroke-width="0.35"/>
<path d="M465.7,31.8L463.4,35.8 M451.8,32.1L475.0,39.6 M451.8,32.1L449.9,35.3 M444.1,33.4L455.7,37.2 M444.1,33.4L442.7,36.0 M439.8,35.1L445.6,37.0 M439.8,35.1L438.4,37.5 M436.9,37.1L439.8,38.0 M436.9,37.1L435.8,39.2 M439.8,38.0L438.7,40.1 M445.6,37.0L444.2,39.4 M442.7,38.9L445.6,39.9 M442.7,38.9L441.6,41.0 M445.6,39.9L444.4,42.0 M455.7,37.2L454.3,39.8 M451.4,38.9L457.2,40.7 M451.4,38.9L450.0,41.3 M448.5,40.8L451.4,41.8 M448.5,40.8L447.4,42.9 M451.4,41.8L450.2,43.9 M457.2,40.7L455.8,43.2 M454.3,42.7L457.2,43.6 M454.3,42.7L453.2,44.8 M457.2,43.6L456.1,45.7 M475.0,39.6L473.1,42.8 M467.3,40.9L478.9,44.7 M467.3,40.9L465.9,43.5 M463.0,42.6L468.8,44.5 M463.0,42.6L461.6,45.0 M460.1,44.6L463.0,45.5 M460.1,44.6L458.9,46.7 M463.0,45.5L461.9,47.6 M468.8,44.5L467.4,46.9 M465.9,46.4L468.8,47.4 M465.9,46.4L464.8,48.5 M468.8,47.4L467.7,49.5 M478.9,44.7L477.5,47.3 M474.6,46.4L480.4,48.2 M474.6,46.4L473.2,48.8 M471.7,48.3L474.6,49.3 M471.7,48.3L470.6,50.4 M474.6,49.3L473.4,51.4 M480.4,48.2L479.0,50.7 M477.5,50.2L480.4,51.1 M477.5,50.2L476.4,52.3 M480.4,51.1L479.2,53.2" fill="none" stroke="#1f86ff" stroke-width="1.1"/>
<path d="M436.2,36.8L437.7,37.3M436.2,36.8L435.0,38.9M437.7,37.3L436.5,39.4" stroke="#1f86ff" stroke-width="0.8" fill="none"/>
<path d="M439.1,37.8L440.6,38.2M439.1,37.8L437.9,39.9M440.6,38.2L439.4,40.3" stroke="#1f86ff" stroke-width="0.8" fill="none"/>
<path d="M442.0,38.7L443.5,39.2M442.0,38.7L440.8,40.8M443.5,39.2L442.3,41.3" stroke="#1f86ff" stroke-width="0.8" fill="none"/>
<path d="M444.9,39.6L446.4,40.1M444.9,39.6L443.7,41.7M446.4,40.1L445.2,42.2" stroke="#1f86ff" stroke-width="0.8" fill="none"/>
<path d="M447.8,40.6L449.3,41.1M447.8,40.6L446.6,42.7M449.3,41.1L448.1,43.2" stroke="#1f86ff" stroke-width="0.8" fill="none"/>
<path d="M450.7,41.5L452.2,42.0M450.7,41.5L449.5,43.6M452.2,42.0L451.0,44.1" stroke="#1f86ff" stroke-width="0.8" fill="none"/>
<path d="M453.6,42.4L455.1,42.9M453.6,42.4L452.4,44.6M455.1,42.9L453.9,45.0" stroke="#1f86ff" stroke-width="0.8" fill="none"/>
<path d="M456.5,43.4L458.0,43.9M456.5,43.4L455.3,45.5M458.0,43.9L456.8,46.0" stroke="#1f86ff" stroke-width="0.8" fill="none"/>
<path d="M459.4,44.3L460.9,44.8M459.4,44.3L458.2,46.4M460.9,44.8L459.7,46.9" stroke="#1f86ff" stroke-width="0.8" fill="none"/>
<path d="M462.3,45.3L463.8,45.7M462.3,45.3L461.1,47.4M463.8,45.7L462.6,47.8" stroke="#1f86ff" stroke-width="0.8" fill="none"/>
<path d="M465.2,46.2L466.7,46.7M465.2,46.2L464.0,48.3M466.7,46.7L465.5,48.8" stroke="#1f86ff" stroke-width="0.8" fill="none"/>
<path d="M468.1,47.1L469.6,47.6M468.1,47.1L466.9,49.2M469.6,47.6L468.4,49.7" stroke="#1f86ff" stroke-width="0.8" fill="none"/>
<path d="M471.0,48.1L472.5,48.6M471.0,48.1L469.8,50.2M472.5,48.6L471.3,50.7" stroke="#1f86ff" stroke-width="0.8" fill="none"/>
<path d="M473.9,49.0L475.4,49.5M473.9,49.0L472.7,51.1M475.4,49.5L474.2,51.6" stroke="#1f86ff" stroke-width="0.8" fill="none"/>
<path d="M476.8,49.9L478.3,50.4M476.8,49.9L475.6,52.1M478.3,50.4L477.1,52.5" stroke="#1f86ff" stroke-width="0.8" fill="none"/>
<path d="M479.7,50.9L481.2,51.4M479.7,50.9L478.5,53.0M481.2,51.4L480.0,53.5" stroke="#1f86ff" stroke-width="0.8" fill="none"/>
<path d="M463.2,36.2L464.9,33.2" stroke="#1f86ff" stroke-width="1.1"/>
<path d="M388.5,10.5 L436.5,23.6 L470,33.3" stroke="#1a6cff" stroke-width="1" fill="none"/>
<path d="M446.7,4 L436.5,23.6" stroke="#1a6cff" stroke-width="1.1" fill="none"/>
<path d="M360.3,67.4 L444.7,98.6" stroke="#f4f4ff" stroke-width="0.9" fill="none"/>
<rect x="460.4" y="7.5" width="45.5" height="25.6" fill="url(#insB)"/>
<g clip-path="url(#clipInset)">
<polygon points="460.39,24.16 463.75,23.20 487.69,32.30 487.69,33.74 460.39,33.74" fill="#cfcfd4"/>
<path d="M469.49,24.16 L465.18,33.74" stroke="#1c1f5a" stroke-width="1.5"/>
<path d="M475.24,25.77 L470.93,33.74" stroke="#1c1f5a" stroke-width="1.5"/>
<path d="M480.99,27.38 L476.68,33.74" stroke="#1c1f5a" stroke-width="1.5"/>
<path d="M486.26,28.85 L481.95,33.74" stroke="#1c1f5a" stroke-width="1.5"/>
<path d="M487.69,8.64 L483.67,14.58" stroke="#14d8ff" stroke-width="2.3" stroke-linecap="round"/>
<path d="M476.68,13.62 L490.09,18.41 M476.68,13.62 L473.80,18.41 M490.09,18.41 L487.21,23.20 M467.10,23.20 L474.76,25.59 M479.55,28.47 L486.74,30.86" stroke="#14d8ff" stroke-width="0.75" fill="none"/>
<path d="M474.09,18.41 L470.93,23.68" stroke="#14d8ff" stroke-width="2.2" stroke-linecap="round"/>
<path d="M487.21,23.20 L483.67,29.14" stroke="#14d8ff" stroke-width="2.2" stroke-linecap="round"/>
<path d="M463.56,8.07 L460.68,14.10" stroke="#14d8ff" stroke-width="1.8" stroke-linecap="round"/>
<path d="M505.70,23.68 L502.25,24.44" stroke="#14d8ff" stroke-width="0.9"/>
<path d="M502.25,24.44 L497.46,32.78" stroke="#14d8ff" stroke-width="2.2" stroke-linecap="round"/>
</g>
<rect x="460.4" y="7.5" width="45.5" height="25.6" fill="none" stroke="#d0d0d0" stroke-width="0.9"/>
<rect x="473.7" y="48.2" width="7.6" height="7.3" fill="none" stroke="#e8e8e8" stroke-width="0.8"/>
<path d="M460.4,33.1 L473.7,48.2 M505.9,33.1 L481.3,48.2" stroke="#d8d8d8" stroke-width="0.7" fill="none"/>
<text x="411" y="11.7" font-size="6.05" class="dv" fill="#f2f2f2">Light In</text>
<text x="327.8" y="84.8" font-size="6.05" class="dv" fill="#f2f2f2">Steered Output</text>
<text x="381.6" y="100.6" font-size="6.05" class="dv" fill="#f2f2f2">Edge Emitters</text>
<text x="381.0" y="106.8" font-size="6.05" class="dv" fill="#f2f2f2">(Sparse Aperiodic Layout)</text>
<text x="491.5" y="48.6" font-size="6.05" class="dv" fill="#f2f2f2">MMI</text>
<text x="491.5" y="55" font-size="6.05" class="dv" fill="#f2f2f2">Tree</text>
<text x="485.7" y="71.6" font-size="6.05" class="dv" fill="#f2f2f2">Phase</text>
<text x="485.7" y="77.8" font-size="6.05" class="dv" fill="#f2f2f2">Shifters</text>
<text x="473.2" y="93.1" font-size="6.05" class="dv" fill="#f2f2f2">Waveguides</text>
<path d="M484.7,69.7 L477,66.1" stroke="#f2f2f2" stroke-width="0.7"/><polygon points="475.2,65.3 478.2,65.2 477.2,67.4" fill="#f2f2f2"/>
<path d="M473,90.2 L465,86.6" stroke="#f2f2f2" stroke-width="0.7"/><polygon points="463.2,85.8 466.2,85.7 465.2,87.9" fill="#f2f2f2"/>
<path d="M438,8.5 L433.8,15.5" stroke="#f2f2f2" stroke-width="0.7"/><polygon points="433,17.2 433.3,14.3 435.2,15.4" fill="#f2f2f2"/>
<path d="M350.6,89.5 Q350.6,103 361.5,106.2" stroke="#f2f2f2" stroke-width="0.8" fill="none"/>
<polygon points="350.9,87.6 349.5,91 352.2,90.8" fill="#f2f2f2"/><polygon points="364.6,107.2 361.5,104.6 360.8,107.8" fill="#f2f2f2"/>
</g>
<rect x="200.4" y="156.2" width="139.6" height="41.9" fill="#fff"/>
<rect x="200.60" y="180.77" width="1.4" height="17.33" fill="#ff5050"/>
<rect x="210.22" y="176.00" width="1.4" height="22.10" fill="#00e8ff"/>
<rect x="219.82" y="171.44" width="1.4" height="26.66" fill="#ff5050"/>
<rect x="228.82" y="167.26" width="1.4" height="30.84" fill="#00e8ff"/>
<rect x="237.39" y="163.62" width="1.4" height="34.48" fill="#ff5050"/>
<rect x="245.65" y="160.64" width="1.4" height="37.46" fill="#00e8ff"/>
<rect x="253.71" y="158.43" width="1.4" height="39.67" fill="#ff5050"/>
<rect x="261.63" y="157.08" width="1.4" height="41.02" fill="#00e8ff"/>
<rect x="269.50" y="156.62" width="1.4" height="41.48" fill="#ff5050"/>
<rect x="277.37" y="157.08" width="1.4" height="41.02" fill="#00e8ff"/>
<rect x="285.29" y="158.43" width="1.4" height="39.67" fill="#ff5050"/>
<rect x="293.35" y="160.64" width="1.4" height="37.46" fill="#00e8ff"/>
<rect x="301.61" y="163.62" width="1.4" height="34.48" fill="#ff5050"/>
<rect x="310.18" y="167.26" width="1.4" height="30.84" fill="#00e8ff"/>
<rect x="319.18" y="171.44" width="1.4" height="26.66" fill="#ff5050"/>
<rect x="328.78" y="176.00" width="1.4" height="22.10" fill="#00e8ff"/>
<rect x="338.40" y="180.77" width="1.4" height="17.33" fill="#ff5050"/>
<polyline points="200.4,180.7 201.2,180.3 202.0,180.0 202.7,179.7 203.5,179.3 204.3,179.0 205.1,178.6 205.8,178.3 206.6,177.9 207.4,177.5 208.2,177.2 208.9,176.8 209.7,176.5 210.5,176.1 211.3,175.7 212.0,175.4 212.8,175.0 213.6,174.6 214.4,174.3 215.1,173.9 215.9,173.5 216.7,173.1 217.5,172.8 218.2,172.4 219.0,172.0 219.8,171.7 220.6,171.3 221.3,170.9 222.1,170.5 222.9,170.2 223.7,169.8 224.4,169.4 225.2,169.1 226.0,168.7 226.8,168.4 227.5,168.0 228.3,167.7 229.1,167.3 229.9,166.9 230.6,166.6 231.4,166.3 232.2,165.9 233.0,165.6 233.8,165.2 234.5,164.9 235.3,164.6 236.1,164.3 236.9,163.9 237.6,163.6 238.4,163.3 239.2,163.0 240.0,162.7 240.7,162.4 241.5,162.1 242.3,161.8 243.1,161.6 243.8,161.3 244.6,161.0 245.4,160.8 246.2,160.5 246.9,160.3 247.7,160.0 248.5,159.8 249.3,159.6 250.0,159.3 250.8,159.1 251.6,158.9 252.4,158.7 253.1,158.5 253.9,158.3 254.7,158.2 255.5,158.0 256.2,157.8 257.0,157.7 257.8,157.5 258.6,157.4 259.3,157.3 260.1,157.2 260.9,157.1 261.7,156.9 262.4,156.9 263.2,156.8 264.0,156.7 264.8,156.6 265.5,156.6 266.3,156.5 267.1,156.5 267.9,156.4 268.6,156.4 269.4,156.4 270.2,156.4 271.0,156.4 271.8,156.4 272.5,156.4 273.3,156.5 274.1,156.5 274.9,156.6 275.6,156.6 276.4,156.7 277.2,156.8 278.0,156.9 278.7,156.9 279.5,157.1 280.3,157.2 281.1,157.3 281.8,157.4 282.6,157.5 283.4,157.7 284.2,157.8 284.9,158.0 285.7,158.2 286.5,158.3 287.3,158.5 288.0,158.7 288.8,158.9 289.6,159.1 290.4,159.3 291.1,159.6 291.9,159.8 292.7,160.0 293.5,160.3 294.2,160.5 295.0,160.8 295.8,161.0 296.6,161.3 297.3,161.6 298.1,161.8 298.9,162.1 299.7,162.4 300.4,162.7 301.2,163.0 302.0,163.3 302.8,163.6 303.5,163.9 304.3,164.3 305.1,164.6 305.9,164.9 306.6,165.2 307.4,165.6 308.2,165.9 309.0,166.3 309.8,166.6 310.5,166.9 311.3,167.3 312.1,167.7 312.9,168.0 313.6,168.4 314.4,168.7 315.2,169.1 316.0,169.4 316.7,169.8 317.5,170.2 318.3,170.5 319.1,170.9 319.8,171.3 320.6,171.7 321.4,172.0 322.2,172.4 322.9,172.8 323.7,173.1 324.5,173.5 325.3,173.9 326.0,174.3 326.8,174.6 327.6,175.0 328.4,175.4 329.1,175.7 329.9,176.1 330.7,176.5 331.5,176.8 332.2,177.2 333.0,177.5 333.8,177.9 334.6,178.3 335.3,178.6 336.1,179.0 336.9,179.3 337.7,179.7 338.4,180.0 339.2,180.3 340.0,180.7" fill="none" stroke="#333" stroke-width="0.6" stroke-dasharray="1.4 1.8"/>
<path d="M200.4 198.1 V156.2 H340.0 V198.1" fill="none" stroke="#747474" stroke-width="1.2"/>
<path d="M201.4 198.1 H340.0" stroke="#00e8ff" stroke-width="1.1"/>
<path d="M223.7 156.2 v1.6" stroke="#444" stroke-width="0.6"/>
<path d="M246.9 156.2 v1.6" stroke="#444" stroke-width="0.6"/>
<path d="M270.2 156.2 v1.6" stroke="#444" stroke-width="0.6"/>
<path d="M293.5 156.2 v1.6" stroke="#444" stroke-width="0.6"/>
<path d="M316.7 156.2 v1.6" stroke="#444" stroke-width="0.6"/>
<path d="M271.6 184.3 H276" stroke="#000" stroke-width="0.8"/><polygon points="278.2,184.3 275.4,182.9 275.4,185.7" fill="#000"/>
<text x="202.7" y="162.5" font-size="4.7" class="ls" fill="#222">Simulation</text>
<text x="201.8" y="195.7" font-size="6.6" class="dv" fill="#222">(a)</text>
<text x="199.8" y="204.4" font-size="4.5" class="ls" fill="#333" text-anchor="middle">-45</text>
<text x="223.1" y="204.4" font-size="4.5" class="ls" fill="#333" text-anchor="middle">-30</text>
<text x="246.3" y="204.4" font-size="4.5" class="ls" fill="#333" text-anchor="middle">-15</text>
<text x="270.2" y="204.4" font-size="4.5" class="ls" fill="#333" text-anchor="middle">0</text>
<text x="293.5" y="204.4" font-size="4.5" class="ls" fill="#333" text-anchor="middle">15</text>
<text x="316.7" y="204.4" font-size="4.5" class="ls" fill="#333" text-anchor="middle">30</text>
<text x="340.0" y="204.4" font-size="4.5" class="ls" fill="#333" text-anchor="middle">45</text>
<text x="270" y="211.4" font-size="5.4" class="ls" fill="#333" text-anchor="middle">φ (°)</text>
<text x="197" y="157.8" font-size="4.5" class="ls" fill="#333" text-anchor="middle">1</text>
<text x="197" y="199.8" font-size="4.5" class="ls" fill="#333" text-anchor="middle">0</text>
<text transform="translate(189.3,177.2) rotate(-90)" font-size="5.2" class="ls" fill="#555" text-anchor="middle">Normalized</text>
<text transform="translate(194.2,177.2) rotate(-90)" font-size="5.2" class="ls" fill="#555" text-anchor="middle">power</text>
<rect x="200.4" y="215.4" width="139.6" height="42.0" fill="#fff"/>
<polygon points="201.4,257.4 201.8,255.6 202.2,257.4" fill="#ff10c0"/>
<polygon points="202.0,257.4 202.7,253.3 203.4,257.4" fill="#ff10c0"/>
<polygon points="203.1,257.4 203.5,255.9 203.9,257.4" fill="#2060ff"/>
<polygon points="203.7,257.4 204.4,255.9 205.1,257.4" fill="#ff10c0"/>
<polygon points="204.7,257.4 205.4,256.1 206.1,257.4" fill="#ff10c0"/>
<polygon points="205.8,257.4 206.2,252.8 206.6,257.4" fill="#00d0ff"/>
<polygon points="206.4,257.4 206.8,254.7 207.2,257.4" fill="#2060ff"/>
<polygon points="207.0,257.4 207.4,254.8 207.8,257.4" fill="#ff10c0"/>
<polygon points="207.6,257.4 208.0,254.6 208.4,257.4" fill="#ff3030"/>
<polygon points="208.2,257.4 208.9,253.0 209.6,257.4" fill="#ff10c0"/>
<polygon points="209.2,257.4 209.7,256.0 210.2,257.4" fill="#2060ff"/>
<polygon points="210.0,257.4 210.5,255.1 211.0,257.4" fill="#ff3030"/>
<polygon points="210.7,257.4 211.1,255.9 211.5,257.4" fill="#00d0ff"/>
<polygon points="211.3,257.4 212.0,254.7 212.7,257.4" fill="#ff3030"/>
<polygon points="212.4,257.4 212.8,255.2 213.2,257.4" fill="#ff10c0"/>
<polygon points="213.0,257.4 213.4,254.9 213.8,257.4" fill="#ff3030"/>
<polygon points="213.6,257.4 214.3,252.5 215.0,257.4" fill="#ff10c0"/>
<polygon points="214.6,257.4 215.1,254.7 215.6,257.4" fill="#ff3030"/>
<polygon points="215.4,257.4 215.8,254.0 216.2,257.4" fill="#ffb020"/>
<polygon points="216.0,257.4 216.7,253.1 217.4,257.4" fill="#ffb020"/>
<polygon points="217.0,257.4 217.7,252.4 218.4,257.4" fill="#30d040"/>
<polygon points="218.1,257.4 218.6,254.6 219.1,257.4" fill="#ffb020"/>
<polygon points="218.8,257.4 219.2,253.9 219.6,257.4" fill="#ff3030"/>
<polygon points="219.4,257.4 219.9,252.4 220.4,257.4" fill="#ff10c0"/>
<polygon points="220.2,257.4 220.9,256.2 221.6,257.4" fill="#ff10c0"/>
<polygon points="221.2,257.4 221.6,255.9 222.0,257.4" fill="#ffb020"/>
<polygon points="221.8,257.4 222.2,256.0 222.6,257.4" fill="#30d040"/>
<polygon points="222.4,257.4 223.1,253.3 223.8,257.4" fill="#30d040"/>
<polygon points="223.5,257.4 223.9,255.3 224.3,257.4" fill="#2060ff"/>
<polygon points="224.1,257.4 224.8,256.1 225.5,257.4" fill="#00d0ff"/>
<polygon points="225.1,257.4 225.6,255.9 226.1,257.4" fill="#ff10c0"/>
<polygon points="225.9,257.4 226.6,255.8 227.3,257.4" fill="#ff3030"/>
<polygon points="226.9,257.4 227.4,254.7 227.9,257.4" fill="#ff10c0"/>
<polygon points="227.7,257.4 228.2,252.7 228.7,257.4" fill="#2060ff"/>
<polygon points="228.4,257.4 228.8,255.4 229.2,257.4" fill="#2060ff"/>
<polygon points="229.0,257.4 229.4,256.0 229.8,257.4" fill="#ffb020"/>
<polygon points="229.6,257.4 230.0,256.1 230.4,257.4" fill="#ff10c0"/>
<polygon points="230.2,257.4 230.9,254.7 231.6,257.4" fill="#ff3030"/>
<polygon points="231.3,257.4 231.7,256.2 232.1,257.4" fill="#2060ff"/>
<polygon points="231.9,257.4 232.4,254.3 232.9,257.4" fill="#ff3030"/>
<polygon points="232.6,257.4 233.1,256.1 233.6,257.4" fill="#ffb020"/>
<polygon points="233.4,257.4 234.1,255.1 234.8,257.4" fill="#ff10c0"/>
<polygon points="234.4,257.4 235.1,255.6 235.8,257.4" fill="#ff10c0"/>
<polygon points="235.5,257.4 235.9,256.2 236.3,257.4" fill="#ff3030"/>
<polygon points="236.1,257.4 236.8,254.0 237.5,257.4" fill="#30d040"/>
<polygon points="237.1,257.4 237.8,253.0 238.5,257.4" fill="#30d040"/>
<polygon points="238.2,257.4 238.9,255.5 239.6,257.4" fill="#00d0ff"/>
<polygon points="239.2,257.4 239.9,254.8 240.6,257.4" fill="#00d0ff"/>
<polygon points="240.3,257.4 240.7,253.3 241.1,257.4" fill="#00d0ff"/>
<polygon points="240.9,257.4 241.3,253.3 241.7,257.4" fill="#00d0ff"/>
<polygon points="241.5,257.4 241.9,254.9 242.3,257.4" fill="#ff10c0"/>
<polygon points="242.1,257.4 242.8,253.5 243.5,257.4" fill="#00d0ff"/>
<polygon points="243.1,257.4 243.6,254.5 244.1,257.4" fill="#ff3030"/>
<polygon points="243.9,257.4 244.3,256.2 244.7,257.4" fill="#ffb020"/>
<polygon points="244.5,257.4 245.0,255.6 245.5,257.4" fill="#ff10c0"/>
<polygon points="245.2,257.4 245.9,252.7 246.6,257.4" fill="#ff10c0"/>
<polygon points="246.3,257.4 246.8,256.1 247.3,257.4" fill="#00d0ff"/>
<polygon points="247.0,257.4 247.4,252.8 247.8,257.4" fill="#ff3030"/>
<polygon points="247.6,257.4 248.1,253.4 248.6,257.4" fill="#2060ff"/>
<polygon points="248.4,257.4 248.8,255.4 249.2,257.4" fill="#ff10c0"/>
<polygon points="249.0,257.4 249.7,250.3 250.4,257.4" fill="#ffb020"/>
<polygon points="250.0,257.4 250.7,256.1 251.4,257.4" fill="#ffb020"/>
<polygon points="251.1,257.4 251.5,252.5 251.9,257.4" fill="#ff10c0"/>
<polygon points="251.7,257.4 252.4,256.2 253.1,257.4" fill="#ff10c0"/>
<polygon points="252.7,257.4 253.1,253.7 253.5,257.4" fill="#00d0ff"/>
<polygon points="253.3,257.4 254.0,256.2 254.7,257.4" fill="#00d0ff"/>
<polygon points="254.4,257.4 254.8,255.6 255.2,257.4" fill="#ff10c0"/>
<polygon points="255.0,257.4 255.7,252.7 256.4,257.4" fill="#ffb020"/>
<polygon points="256.0,257.4 256.7,254.6 257.4,257.4" fill="#2060ff"/>
<polygon points="257.1,257.4 257.6,256.1 258.1,257.4" fill="#ff10c0"/>
<polygon points="257.8,257.4 258.2,253.5 258.6,257.4" fill="#ff10c0"/>
<polygon points="258.4,257.4 259.1,256.1 259.8,257.4" fill="#ff10c0"/>
<polygon points="259.5,257.4 259.9,256.2 260.3,257.4" fill="#ffb020"/>
<polygon points="260.1,257.4 260.6,251.0 261.1,257.4" fill="#00d0ff"/>
<polygon points="260.8,257.4 261.5,256.2 262.2,257.4" fill="#ffb020"/>
<polygon points="261.9,257.4 262.4,256.2 262.9,257.4" fill="#ff10c0"/>
<polygon points="262.6,257.4 263.3,255.6 264.0,257.4" fill="#00d0ff"/>
<polygon points="263.7,257.4 264.4,255.8 265.1,257.4" fill="#ffb020"/>
<polygon points="264.7,257.4 265.4,252.4 266.1,257.4" fill="#30d040"/>
<polygon points="265.8,257.4 266.2,252.8 266.6,257.4" fill="#ffb020"/>
<polygon points="266.4,257.4 266.8,255.3 267.2,257.4" fill="#ff3030"/>
<polygon points="267.0,257.4 267.7,254.2 268.4,257.4" fill="#00d0ff"/>
<polygon points="268.0,257.4 268.7,255.7 269.4,257.4" fill="#ff10c0"/>
<polygon points="269.1,257.4 269.5,254.3 269.9,257.4" fill="#30d040"/>
<polygon points="269.7,257.4 270.2,252.2 270.7,257.4" fill="#ff10c0"/>
<polygon points="270.4,257.4 270.8,252.8 271.2,257.4" fill="#00d0ff"/>
<polygon points="271.0,257.4 271.5,254.0 272.0,257.4" fill="#2060ff"/>
<polygon points="271.8,257.4 272.5,255.3 273.2,257.4" fill="#ff10c0"/>
<polygon points="272.8,257.4 273.3,255.5 273.8,257.4" fill="#ffb020"/>
<polygon points="273.6,257.4 274.3,254.0 275.0,257.4" fill="#30d040"/>
<polygon points="274.6,257.4 275.0,252.3 275.4,257.4" fill="#00d0ff"/>
<polygon points="275.2,257.4 275.7,256.2 276.2,257.4" fill="#ff10c0"/>
<polygon points="276.0,257.4 276.5,253.7 277.0,257.4" fill="#30d040"/>
<polygon points="276.7,257.4 277.4,256.1 278.1,257.4" fill="#ffb020"/>
<polygon points="277.8,257.4 278.3,255.6 278.8,257.4" fill="#ff10c0"/>
<polygon points="278.5,257.4 279.2,252.8 279.9,257.4" fill="#ff10c0"/>
<polygon points="279.6,257.4 280.0,256.1 280.4,257.4" fill="#00d0ff"/>
<polygon points="280.2,257.4 280.7,255.8 281.2,257.4" fill="#ff10c0"/>
<polygon points="280.9,257.4 281.6,252.0 282.3,257.4" fill="#30d040"/>
<polygon points="282.0,257.4 282.4,256.1 282.8,257.4" fill="#00d0ff"/>
<polygon points="282.6,257.4 283.0,252.2 283.4,257.4" fill="#ff10c0"/>
<polygon points="283.2,257.4 283.7,252.5 284.2,257.4" fill="#00d0ff"/>
<polygon points="283.9,257.4 284.4,255.2 284.9,257.4" fill="#30d040"/>
<polygon points="284.7,257.4 285.1,253.4 285.5,257.4" fill="#ff10c0"/>
<polygon points="285.3,257.4 286.0,256.2 286.7,257.4" fill="#00d0ff"/>
<polygon points="286.3,257.4 287.0,255.1 287.7,257.4" fill="#ff10c0"/>
<polygon points="287.4,257.4 288.1,253.3 288.8,257.4" fill="#ffb020"/>
<polygon points="288.4,257.4 289.1,253.2 289.8,257.4" fill="#30d040"/>
<polygon points="289.5,257.4 290.2,255.9 290.9,257.4" fill="#00d0ff"/>
<polygon points="290.5,257.4 290.9,253.8 291.3,257.4" fill="#ff3030"/>
<polygon points="291.1,257.4 291.6,251.4 292.1,257.4" fill="#30d040"/>
<polygon points="291.9,257.4 292.6,256.0 293.3,257.4" fill="#2060ff"/>
<polygon points="292.9,257.4 293.6,254.2 294.3,257.4" fill="#00d0ff"/>
<polygon points="294.0,257.4 294.5,255.7 295.0,257.4" fill="#ff10c0"/>
<polygon points="294.7,257.4 295.4,255.2 296.1,257.4" fill="#ff3030"/>
<polygon points="295.8,257.4 296.2,253.8 296.6,257.4" fill="#30d040"/>
<polygon points="296.4,257.4 296.8,253.7 297.2,257.4" fill="#2060ff"/>
<polygon points="297.0,257.4 297.4,255.1 297.8,257.4" fill="#00d0ff"/>
<polygon points="297.6,257.4 298.0,253.2 298.4,257.4" fill="#30d040"/>
<polygon points="298.2,257.4 298.6,256.1 299.0,257.4" fill="#2060ff"/>
<polygon points="298.8,257.4 299.5,255.7 300.2,257.4" fill="#ff10c0"/>
<polygon points="299.8,257.4 300.5,252.3 301.2,257.4" fill="#ff10c0"/>
<polygon points="300.9,257.4 301.4,252.8 301.9,257.4" fill="#2060ff"/>
<polygon points="301.6,257.4 302.3,253.9 303.0,257.4" fill="#30d040"/>
<polygon points="302.7,257.4 303.4,254.4 304.1,257.4" fill="#2060ff"/>
<polygon points="303.7,257.4 304.4,254.0 305.1,257.4" fill="#ff10c0"/>
<polygon points="304.8,257.4 305.2,254.6 305.6,257.4" fill="#00d0ff"/>
<polygon points="305.4,257.4 305.8,256.2 306.2,257.4" fill="#ff3030"/>
<polygon points="306.0,257.4 306.7,255.5 307.4,257.4" fill="#ff10c0"/>
<polygon points="307.0,257.4 307.5,256.2 308.0,257.4" fill="#00d0ff"/>
<polygon points="307.8,257.4 308.5,255.8 309.2,257.4" fill="#ff10c0"/>
<polygon points="308.8,257.4 309.5,252.5 310.2,257.4" fill="#ff10c0"/>
<polygon points="309.9,257.4 310.4,254.9 310.9,257.4" fill="#ffb020"/>
<polygon points="310.6,257.4 311.3,253.3 312.0,257.4" fill="#00d0ff"/>
<polygon points="311.7,257.4 312.2,253.7 312.7,257.4" fill="#ffb020"/>
<polygon points="312.4,257.4 312.8,251.3 313.2,257.4" fill="#30d040"/>
<polygon points="313.0,257.4 313.7,254.4 314.4,257.4" fill="#ff10c0"/>
<polygon points="314.1,257.4 314.8,256.1 315.5,257.4" fill="#30d040"/>
<polygon points="315.1,257.4 315.6,252.9 316.1,257.4" fill="#ff10c0"/>
<polygon points="315.9,257.4 316.6,255.8 317.3,257.4" fill="#00d0ff"/>
<polygon points="316.9,257.4 317.4,255.0 317.9,257.4" fill="#30d040"/>
<polygon points="317.7,257.4 318.2,255.1 318.7,257.4" fill="#00d0ff"/>
<polygon points="318.4,257.4 318.9,252.2 319.4,257.4" fill="#ff10c0"/>
<polygon points="319.2,257.4 319.7,255.2 320.2,257.4" fill="#ffb020"/>
<polygon points="319.9,257.4 320.3,255.4 320.7,257.4" fill="#00d0ff"/>
<polygon points="320.5,257.4 321.0,254.6 321.5,257.4" fill="#30d040"/>
<polygon points="321.3,257.4 321.7,256.1 322.1,257.4" fill="#30d040"/>
<polygon points="321.9,257.4 322.4,254.0 322.9,257.4" fill="#ffb020"/>
<polygon points="322.6,257.4 323.3,254.4 324.0,257.4" fill="#ffb020"/>
<polygon points="323.7,257.4 324.2,255.2 324.7,257.4" fill="#ff10c0"/>
<polygon points="324.4,257.4 324.8,255.6 325.2,257.4" fill="#ff3030"/>
<polygon points="325.0,257.4 325.4,255.6 325.8,257.4" fill="#2060ff"/>
<polygon points="325.6,257.4 326.3,252.4 327.0,257.4" fill="#ff10c0"/>
<polygon points="326.7,257.4 327.2,255.7 327.7,257.4" fill="#2060ff"/>
<polygon points="327.4,257.4 327.9,252.0 328.4,257.4" fill="#ff3030"/>
<polygon points="328.2,257.4 328.6,253.7 329.0,257.4" fill="#30d040"/>
<polygon points="328.8,257.4 329.2,256.2 329.6,257.4" fill="#ff10c0"/>
<polygon points="329.4,257.4 329.8,252.2 330.2,257.4" fill="#ff3030"/>
<polygon points="330.0,257.4 330.4,253.6 330.8,257.4" fill="#2060ff"/>
<polygon points="330.6,257.4 331.3,253.3 332.0,257.4" fill="#00d0ff"/>
<polygon points="331.6,257.4 332.1,256.2 332.6,257.4" fill="#2060ff"/>
<polygon points="332.4,257.4 332.9,254.4 333.4,257.4" fill="#30d040"/>
<polygon points="333.1,257.4 333.5,256.2 333.9,257.4" fill="#ff10c0"/>
<polygon points="333.7,257.4 334.2,255.1 334.7,257.4" fill="#30d040"/>
<polygon points="334.5,257.4 335.0,253.8 335.5,257.4" fill="#30d040"/>
<polygon points="335.2,257.4 335.6,254.2 336.0,257.4" fill="#2060ff"/>
<polygon points="335.8,257.4 336.5,256.0 337.2,257.4" fill="#00d0ff"/>
<polygon points="336.9,257.4 337.4,252.7 337.9,257.4" fill="#00d0ff"/>
<polygon points="337.6,257.4 338.1,252.7 338.6,257.4" fill="#ffb020"/>
<polygon points="338.4,257.4 338.8,256.1 339.2,257.4" fill="#ff10c0"/>
<polygon points="339.0,257.4 339.5,255.6 340.0,257.4" fill="#00d0ff"/>
<rect x="269.50" y="215.82" width="1.4" height="41.58" fill="#ff7888"/>
<rect x="277.25" y="216.27" width="1.4" height="41.13" fill="#ffa850"/>
<rect x="285.01" y="217.57" width="1.4" height="39.83" fill="#e4ee40"/>
<rect x="292.76" y="219.66" width="1.4" height="37.74" fill="#40e840"/>
<rect x="300.52" y="222.40" width="1.4" height="35.00" fill="#20e090"/>
<rect x="308.27" y="225.64" width="1.4" height="31.76" fill="#30e0f0"/>
<rect x="316.03" y="229.19" width="1.4" height="28.21" fill="#4c90f4"/>
<rect x="323.79" y="232.88" width="1.4" height="24.52" fill="#9050e8"/>
<rect x="331.54" y="236.54" width="1.4" height="20.86" fill="#f050e0"/>
<rect x="338.40" y="240.03" width="1.4" height="17.37" fill="#ff6090"/>
<path d="M201.4 257.2 H340.0" stroke="#ff10c0" stroke-width="2.0"/>
<polyline points="200.4,239.9 201.2,239.6 202.0,239.3 202.7,238.9 203.5,238.6 204.3,238.2 205.1,237.9 205.8,237.5 206.6,237.2 207.4,236.8 208.2,236.4 208.9,236.1 209.7,235.7 210.5,235.3 211.3,235.0 212.0,234.6 212.8,234.2 213.6,233.9 214.4,233.5 215.1,233.1 215.9,232.8 216.7,232.4 217.5,232.0 218.2,231.6 219.0,231.3 219.8,230.9 220.6,230.5 221.3,230.2 222.1,229.8 222.9,229.4 223.7,229.0 224.4,228.7 225.2,228.3 226.0,228.0 226.8,227.6 227.5,227.2 228.3,226.9 229.1,226.5 229.9,226.2 230.6,225.8 231.4,225.5 232.2,225.1 233.0,224.8 233.8,224.5 234.5,224.1 235.3,223.8 236.1,223.5 236.9,223.2 237.6,222.8 238.4,222.5 239.2,222.2 240.0,221.9 240.7,221.6 241.5,221.3 242.3,221.1 243.1,220.8 243.8,220.5 244.6,220.2 245.4,220.0 246.2,219.7 246.9,219.5 247.7,219.2 248.5,219.0 249.3,218.8 250.0,218.5 250.8,218.3 251.6,218.1 252.4,217.9 253.1,217.7 253.9,217.5 254.7,217.4 255.5,217.2 256.2,217.0 257.0,216.9 257.8,216.7 258.6,216.6 259.3,216.5 260.1,216.4 260.9,216.3 261.7,216.2 262.4,216.1 263.2,216.0 264.0,215.9 264.8,215.8 265.5,215.8 266.3,215.7 267.1,215.7 267.9,215.7 268.6,215.6 269.4,215.6 270.2,215.6 271.0,215.6 271.8,215.6 272.5,215.7 273.3,215.7 274.1,215.7 274.9,215.8 275.6,215.8 276.4,215.9 277.2,216.0 278.0,216.1 278.7,216.2 279.5,216.3 280.3,216.4 281.1,216.5 281.8,216.6 282.6,216.7 283.4,216.9 284.2,217.0 284.9,217.2 285.7,217.4 286.5,217.5 287.3,217.7 288.0,217.9 288.8,218.1 289.6,218.3 290.4,218.5 291.1,218.8 291.9,219.0 292.7,219.2 293.5,219.5 294.2,219.7 295.0,220.0 295.8,220.2 296.6,220.5 297.3,220.8 298.1,221.1 298.9,221.3 299.7,221.6 300.4,221.9 301.2,222.2 302.0,222.5 302.8,222.8 303.5,223.2 304.3,223.5 305.1,223.8 305.9,224.1 306.6,224.5 307.4,224.8 308.2,225.1 309.0,225.5 309.8,225.8 310.5,226.2 311.3,226.5 312.1,226.9 312.9,227.2 313.6,227.6 314.4,228.0 315.2,228.3 316.0,228.7 316.7,229.0 317.5,229.4 318.3,229.8 319.1,230.2 319.8,230.5 320.6,230.9 321.4,231.3 322.2,231.6 322.9,232.0 323.7,232.4 324.5,232.8 325.3,233.1 326.0,233.5 326.8,233.9 327.6,234.2 328.4,234.6 329.1,235.0 329.9,235.3 330.7,235.7 331.5,236.1 332.2,236.4 333.0,236.8 333.8,237.2 334.6,237.5 335.3,237.9 336.1,238.2 336.9,238.6 337.7,238.9 338.4,239.3 339.2,239.6 340.0,239.9" fill="none" stroke="#333" stroke-width="0.6" stroke-dasharray="1.4 1.8"/>
<path d="M200.4 257.4 V215.4 H340.0 V257.4" fill="none" stroke="#747474" stroke-width="1.2"/>
<path d="M223.7 215.4 v1.6" stroke="#444" stroke-width="0.6"/>
<path d="M246.9 215.4 v1.6" stroke="#444" stroke-width="0.6"/>
<path d="M270.2 215.4 v1.6" stroke="#444" stroke-width="0.6"/>
<path d="M293.5 215.4 v1.6" stroke="#444" stroke-width="0.6"/>
<path d="M316.7 215.4 v1.6" stroke="#444" stroke-width="0.6"/>
<path d="M270.9 245.2 H275.4" stroke="#000" stroke-width="0.8"/><polygon points="277.4,245.2 274.2,243.5 274.2,246.89999999999998" fill="#000"/>
<path d="M278.7 245.2 H283.1" stroke="#000" stroke-width="0.8"/><polygon points="285.1,245.2 281.9,243.5 281.9,246.89999999999998" fill="#000"/>
<path d="M286.4 245.2 H290.9" stroke="#000" stroke-width="0.8"/><polygon points="292.9,245.2 289.7,243.5 289.7,246.89999999999998" fill="#000"/>
<path d="M294.2 245.2 H298.6" stroke="#000" stroke-width="0.8"/><polygon points="300.6,245.2 297.4,243.5 297.4,246.89999999999998" fill="#000"/>
<path d="M301.9 245.2 H306.4" stroke="#000" stroke-width="0.8"/><polygon points="308.4,245.2 305.2,243.5 305.2,246.89999999999998" fill="#000"/>
<path d="M309.7 245.2 H314.1" stroke="#000" stroke-width="0.8"/><polygon points="316.1,245.2 312.9,243.5 312.9,246.89999999999998" fill="#000"/>
<path d="M317.4 245.2 H321.9" stroke="#000" stroke-width="0.8"/><polygon points="323.9,245.2 320.7,243.5 320.7,246.89999999999998" fill="#000"/>
<path d="M325.2 245.2 H329.6" stroke="#000" stroke-width="0.8"/><polygon points="331.6,245.2 328.4,243.5 328.4,246.89999999999998" fill="#000"/>
<path d="M332.9 245.2 H337.4" stroke="#000" stroke-width="0.8"/><polygon points="339.4,245.2 336.2,243.5 336.2,246.89999999999998" fill="#000"/>
<text x="202.7" y="222.0" font-size="4.7" class="ls" fill="#222">Simulation</text>
<text x="201.8" y="254.6" font-size="6.6" class="dv" fill="#222">(b)</text>
<text x="199.8" y="263.8" font-size="4.5" class="ls" fill="#333" text-anchor="middle">-45</text>
<text x="223.1" y="263.8" font-size="4.5" class="ls" fill="#333" text-anchor="middle">-30</text>
<text x="246.3" y="263.8" font-size="4.5" class="ls" fill="#333" text-anchor="middle">-15</text>
<text x="270.2" y="263.8" font-size="4.5" class="ls" fill="#333" text-anchor="middle">0</text>
<text x="293.5" y="263.8" font-size="4.5" class="ls" fill="#333" text-anchor="middle">15</text>
<text x="316.7" y="263.8" font-size="4.5" class="ls" fill="#333" text-anchor="middle">30</text>
<text x="340.0" y="263.8" font-size="4.5" class="ls" fill="#333" text-anchor="middle">45</text>
<text x="270" y="270.6" font-size="5.4" class="ls" fill="#333" text-anchor="middle">φ (°)</text>
<text x="197" y="217.2" font-size="4.5" class="ls" fill="#333" text-anchor="middle">1</text>
<text x="197" y="259.2" font-size="4.5" class="ls" fill="#333" text-anchor="middle">0</text>
<text transform="translate(189.3,236.6) rotate(-90)" font-size="5.2" class="ls" fill="#555" text-anchor="middle">Normalized</text>
<text transform="translate(194.2,236.6) rotate(-90)" font-size="5.2" class="ls" fill="#555" text-anchor="middle">power</text>
<path d="M458.2 199.3 L458.2 160.5" stroke="#444" stroke-width="0.5"/>
<path d="M458.4 199.3 L531.9 244.3" stroke="#444" stroke-width="0.5"/>
<path d="M458.4 199.3 L380.3 240.1" stroke="#444" stroke-width="0.5"/>
<polygon points="428.0,199.7 441.5,195.7 435.3,188.3 449.1,190.6 449.7,181.2 460.2,189.2 473.2,183.1 471.3,192.2 487.2,192.6 476.3,198.1 487.8,202.0 473.3,205.0 476.8,214.8 462.8,209.2 456.1,216.6 451.1,208.6 433.5,213.0 441.9,203.4" fill="#f01818"/>
<ellipse cx="458.4" cy="199.3" rx="3.0" ry="1.6" fill="none" stroke="#fff" stroke-width="0.9"/>
<ellipse cx="458.4" cy="199.3" rx="6.0" ry="3.2" fill="none" stroke="#fff" stroke-width="0.9"/>
<ellipse cx="458.4" cy="199.3" rx="9.0" ry="4.8" fill="none" stroke="#fff" stroke-width="0.9"/>
<ellipse cx="458.4" cy="199.3" rx="12.0" ry="6.4" fill="none" stroke="#fff" stroke-width="0.9"/>
<ellipse cx="458.4" cy="199.3" rx="15.0" ry="8.0" fill="none" stroke="#fff" stroke-width="0.9"/>
<path d="M458.2 199.3 L458.2 160.5" stroke="#333" stroke-width="0.5"/>
<path d="M458.4 199.3 L476 218" stroke="#333" stroke-width="0.5"/>
<path d="M458.4 199.3 L440 209.5" stroke="#333" stroke-width="0.5"/>
<path d="M458.4 199.3 L472.5 174.5" stroke="#444" stroke-width="0.4"/>
<path d="M472.5 174.5 L472.5 219 L458.4 199.3" stroke="#999" stroke-width="0.35" fill="none"/>
<path d="M456.8 184 Q462 182.5 466.3 185.2" stroke="#555" stroke-width="0.4" fill="none"/>
<path d="M433.5 199.6 L403.2 200.0" stroke="#707070" stroke-width="0.7"/><path d="M433.5 199.6 L426.8 199.7" stroke="#f01818" stroke-width="1.3"/><path d="M426.2 199.7 L423.8 199.7" stroke="#1828e0" stroke-width="1.3"/><path d="M423.2 199.7 L419.6 199.8" stroke="#f01818" stroke-width="1.3"/><path d="M419.0 199.8 L416.5 199.8" stroke="#1828e0" stroke-width="1.3"/><path d="M415.9 199.8 L412.3 199.9" stroke="#f01818" stroke-width="1.3"/><polygon points="412.3,199.9 405.3,198.4 405.3,201.6" fill="#2a8a84"/><path d="M405.3 200.0 L403.2 200.0" stroke="#f01818" stroke-width="1.3"/>
<path d="M439.5 190.3 L421.0 182.9" stroke="#707070" stroke-width="0.7"/><path d="M439.5 190.3 L435.4 188.7" stroke="#f01818" stroke-width="1.3"/><path d="M435.1 188.5 L433.6 187.9" stroke="#1828e0" stroke-width="1.3"/><path d="M433.2 187.8 L431.0 186.9" stroke="#f01818" stroke-width="1.3"/><path d="M430.6 186.7 L429.1 186.2" stroke="#1828e0" stroke-width="1.3"/><path d="M428.8 186.0 L426.6 185.1" stroke="#f01818" stroke-width="1.3"/><polygon points="426.6,185.1 422.9,181.9 421.7,184.9" fill="#2a8a84"/><path d="M422.3 183.4 L421.0 182.9" stroke="#f01818" stroke-width="1.3"/>
<path d="M451.3 184.5 L443.8 167.7" stroke="#707070" stroke-width="0.7"/><path d="M451.3 184.5 L449.7 180.8" stroke="#f01818" stroke-width="1.3"/><path d="M449.5 180.5 L448.9 179.1" stroke="#1828e0" stroke-width="1.3"/><path d="M448.8 178.8 L447.9 176.8" stroke="#f01818" stroke-width="1.3"/><path d="M447.7 176.4 L447.1 175.1" stroke="#1828e0" stroke-width="1.3"/><path d="M446.9 174.8 L446.1 172.7" stroke="#f01818" stroke-width="1.3"/><polygon points="446.1,172.7 445.8,168.2 442.9,169.5" fill="#2a8a84"/><path d="M444.3 168.9 L443.8 167.7" stroke="#f01818" stroke-width="1.3"/>
<path d="M470.5 186.0 L482.6 173.4" stroke="#707070" stroke-width="0.7"/><path d="M470.5 186.0 L473.2 183.2" stroke="#f01818" stroke-width="1.3"/><path d="M473.4 183.0 L474.4 182.0" stroke="#1828e0" stroke-width="1.3"/><path d="M474.6 181.7 L476.1 180.2" stroke="#f01818" stroke-width="1.3"/><path d="M476.3 180.0 L477.3 178.9" stroke="#1828e0" stroke-width="1.3"/><path d="M477.5 178.7 L479.0 177.2" stroke="#f01818" stroke-width="1.3"/><polygon points="479.0,177.2 482.9,175.4 480.6,173.2" fill="#2a8a84"/><path d="M481.8 174.3 L482.6 173.4" stroke="#f01818" stroke-width="1.3"/>
<path d="M482.0 193.8 L505.0 188.1" stroke="#707070" stroke-width="0.7"/><path d="M482.0 193.8 L487.1 192.5" stroke="#f01818" stroke-width="1.3"/><path d="M487.5 192.4 L489.4 192.0" stroke="#1828e0" stroke-width="1.3"/><path d="M489.8 191.9 L492.6 191.2" stroke="#f01818" stroke-width="1.3"/><path d="M493.0 191.1 L494.9 190.6" stroke="#1828e0" stroke-width="1.3"/><path d="M495.3 190.5 L498.1 189.8" stroke="#f01818" stroke-width="1.3"/><polygon points="498.1,189.8 503.8,190.1 503.0,186.9" fill="#2a8a84"/><path d="M503.4 188.5 L505.0 188.1" stroke="#f01818" stroke-width="1.3"/>
<path d="M482.5 201.5 L516.1 208.6" stroke="#707070" stroke-width="0.7"/><path d="M482.5 201.5 L489.9 203.1" stroke="#f01818" stroke-width="1.3"/><path d="M490.6 203.2 L493.3 203.8" stroke="#1828e0" stroke-width="1.3"/><path d="M493.9 203.9 L498.0 204.8" stroke="#f01818" stroke-width="1.3"/><path d="M498.6 204.9 L501.3 205.5" stroke="#1828e0" stroke-width="1.3"/><path d="M502.0 205.6 L506.0 206.5" stroke="#f01818" stroke-width="1.3"/><polygon points="506.0,206.5 513.4,209.7 514.1,206.5" fill="#2a8a84"/><path d="M513.7 208.1 L516.1 208.6" stroke="#f01818" stroke-width="1.3"/>
<path d="M473.5 212.0 L500.2 231.9" stroke="#707070" stroke-width="0.7"/><path d="M473.5 212.0 L477.5 215.0" stroke="#f01818" stroke-width="1.3"/><path d="M478.0 215.4 L479.9 216.8" stroke="#1828e0" stroke-width="1.3"/><polygon points="480.4,217.2 484.8,222.4 486.7,219.9" fill="#2a8a84"/><path d="M485.8 221.2 L487.4 222.3" stroke="#f01818" stroke-width="1.3"/><path d="M487.9 222.7 L489.5 223.9" stroke="#1828e0" stroke-width="1.3"/><path d="M490.1 224.3 L492.2 225.9" stroke="#f01818" stroke-width="1.3"/><polygon points="492.2,225.9 497.4,231.8 499.3,229.2" fill="#2a8a84"/><path d="M498.3 230.5 L500.2 231.9" stroke="#f01818" stroke-width="1.3"/>
<path d="M456.5 213.5 L453.3 237.4" stroke="#707070" stroke-width="0.7"/><path d="M456.5 213.5 L456.0 217.1" stroke="#f01818" stroke-width="1.3"/><path d="M456.0 217.6 L455.7 219.2" stroke="#1828e0" stroke-width="1.3"/><polygon points="455.7,219.7 453.4,224.3 456.6,224.7" fill="#2a8a84"/><path d="M455.0 224.5 L454.8 225.9" stroke="#f01818" stroke-width="1.3"/><path d="M454.8 226.4 L454.6 227.8" stroke="#1828e0" stroke-width="1.3"/><path d="M454.5 228.3 L454.3 230.2" stroke="#f01818" stroke-width="1.3"/><polygon points="454.3,230.2 451.9,235.5 455.1,235.9" fill="#2a8a84"/><path d="M453.5 235.7 L453.3 237.4" stroke="#f01818" stroke-width="1.3"/>
<path d="M441.5 208.6 L383.5 238.4" stroke="#707070" stroke-width="0.7"/><path d="M441.5 208.6 L437.4 210.7" stroke="#f01818" stroke-width="1.3"/><path d="M436.9 211.0 L434.0 212.5" stroke="#1828e0" stroke-width="1.3"/><polygon points="433.4,212.8 428.0,213.7 429.5,216.6" fill="#2a8a84"/><path d="M428.7 215.2 L426.4 216.3" stroke="#f01818" stroke-width="1.3"/><path d="M425.3 216.9 L422.4 218.4" stroke="#1828e0" stroke-width="1.3"/><path d="M421.2 219.0 L418.3 220.5" stroke="#f01818" stroke-width="1.3"/><polygon points="418.3,220.5 410.6,222.7 412.1,225.5" fill="#2a8a84"/><path d="M411.3 224.1 L409.6 225.0" stroke="#f01818" stroke-width="1.3"/><polygon points="392.2,233.9 385.1,235.8 386.6,238.6" fill="#2a8a84"/><path d="M385.8 237.2 L383.5 238.4" stroke="#f01818" stroke-width="1.3"/><path d="M393.9 233.0 L392.2 233.9" stroke="#f01818" stroke-width="1.3"/>
<path d="M386.6 200.2 L379.2 200.5" stroke="#707070" stroke-width="0.7"/><path d="M386.6 200.2 L385.1 200.3" stroke="#f01818" stroke-width="1.0"/><polygon points="385.1,200.3 379.9,198.9 380.0,202.1" fill="#2a8a84"/><path d="M379.9 200.5 L379.2 200.5" stroke="#f01818" stroke-width="1.0"/>
<path d="M411.8 177.8 L407.0 175.8" stroke="#707070" stroke-width="0.7"/><path d="M411.8 177.8 L410.8 177.4" stroke="#f01818" stroke-width="1.0"/><polygon points="410.8,177.4 408.1,174.5 406.9,177.5" fill="#2a8a84"/><path d="M407.5 176.0 L407.0 175.8" stroke="#f01818" stroke-width="1.0"/>
<path d="M482.8 171.4 L485.2 168.6" stroke="#707070" stroke-width="0.7"/><path d="M482.8 171.4 L483.3 170.8" stroke="#f01818" stroke-width="1.0"/><polygon points="483.3,170.8 486.2,169.9 483.7,167.8" fill="#2a8a84"/><path d="M485.0 168.9 L485.2 168.6" stroke="#f01818" stroke-width="1.0"/>
<path d="M517.5 185.4 L522.8 183.9" stroke="#707070" stroke-width="0.7"/><path d="M517.5 185.4 L518.6 185.1" stroke="#f01818" stroke-width="1.0"/><polygon points="518.6,185.1 522.7,185.6 521.8,182.5" fill="#2a8a84"/><path d="M522.3 184.1 L522.8 183.9" stroke="#f01818" stroke-width="1.0"/>
<path d="M536.0 211.2 L544.5 213.6" stroke="#707070" stroke-width="0.7"/><path d="M536.0 211.2 L537.7 211.7" stroke="#f01818" stroke-width="1.0"/><polygon points="537.7,211.7 543.2,214.9 544.1,211.8" fill="#2a8a84"/><path d="M543.6 213.4 L544.5 213.6" stroke="#f01818" stroke-width="1.0"/>
<path d="M515.9 245.5 L525.4 252.2" stroke="#707070" stroke-width="0.7"/><path d="M515.9 245.5 L517.8 246.8" stroke="#f01818" stroke-width="1.0"/><polygon points="517.8,246.8 523.5,252.8 525.4,250.2" fill="#2a8a84"/><path d="M524.4 251.5 L525.4 252.2" stroke="#f01818" stroke-width="1.0"/>
<path d="M450.0 254.5 L448.9 263.0" stroke="#707070" stroke-width="0.7"/><path d="M450.0 254.5 L449.8 256.2" stroke="#f01818" stroke-width="1.0"/><polygon points="449.8,256.2 447.4,261.9 450.6,262.4" fill="#2a8a84"/><path d="M449.0 262.1 L448.9 263.0" stroke="#f01818" stroke-width="1.0"/>
<path d="M443.0 166.0 L442.0 163.8" stroke="#707070" stroke-width="0.7"/><path d="M443.0 166.0 L442.8 165.6" stroke="#f01818" stroke-width="1.0"/><polygon points="442.8,165.6 443.6,163.4 440.6,164.7" fill="#2a8a84"/><path d="M442.1 164.0 L442.0 163.8" stroke="#f01818" stroke-width="1.0"/>
<circle cx="391.7" cy="200.2" r="0.55" fill="#222"/>
<circle cx="394.3" cy="200.2" r="0.55" fill="#222"/>
<circle cx="397" cy="200.2" r="0.55" fill="#222"/>
<circle cx="521.9" cy="209.8" r="0.55" fill="#222"/>
<circle cx="524.6" cy="210.3" r="0.55" fill="#222"/>
<circle cx="527.3" cy="210.8" r="0.55" fill="#222"/>
<circle cx="451.3" cy="244.0" r="0.55" fill="#222"/>
<circle cx="451.0" cy="247.2" r="0.55" fill="#222"/>
<circle cx="450.7" cy="250.4" r="0.55" fill="#222"/>
<rect x="465.1" y="236.0" width="2.7" height="1.5" fill="#1020e0"/>
<rect x="465.1" y="242.1" width="2.7" height="1.5" fill="#f01010"/>
<rect x="465.1" y="248.3" width="2.7" height="1.6" fill="#10d8e8"/>
<text x="471" y="238.1" font-size="3.85" class="lr" fill="#222">Phase shifter</text>
<text x="471" y="244.2" font-size="3.85" class="lr" fill="#222">Silicon</text>
<text x="471" y="250.4" font-size="3.85" class="lr" fill="#222">SWG</text>
<text x="455.3" y="164.5" font-size="3.6" class="lr" font-style="italic" fill="#222">z</text>
<text x="532.8" y="241.5" font-size="3.6" class="lr" font-style="italic" fill="#222">y</text>
<text x="378.4" y="237.5" font-size="3.6" class="lr" font-style="italic" fill="#222">x</text>
<text x="467.6" y="173.6" font-size="3.2" class="lr" font-style="italic" fill="#222">(θ, ϕ)</text>
<text x="482.6" y="171" font-size="3.2" class="lr" font-style="italic" fill="#222">P</text>
<text x="460.3" y="188.3" font-size="3" class="lr" font-style="italic" fill="#222">θ</text>
<defs><clipPath id="clipC"><rect x="4.2" y="148.8" width="149.8" height="136.39999999999998"/></clipPath></defs>
<g clip-path="url(#clipC)">
<rect x="4.2" y="148.8" width="149.8" height="136.39999999999998" fill="#fff"/>
<path d="M4.5,149.7 L64.4,149.7 Q66.9,149.7 66.9,152.2 L66.9,174.5 Q66.9,177.0 69.4,177.0 L98.6,177.0 Q101.1,177.0 101.1,174.5 L101.1,149.2 M4.5,151.1 L62.9,151.1 Q65.4,151.1 65.4,153.6 L65.4,175.9 Q65.4,178.4 67.9,178.4 L100.1,178.4 Q102.6,178.4 102.6,175.9 L102.6,149.2 M4.5,152.5 L61.5,152.5 Q64.0,152.5 64.0,155.0 L64.0,177.3 Q64.0,179.8 66.5,179.8 L101.5,179.8 Q104.0,179.8 104.0,177.3 L104.0,149.2 M4.5,167.8 L28.6,167.8 Q30.5,167.8 31.9,166.4 L31.9,166.4 Q33.2,165.0 32.5,163.2 L31.6,160.8 M4.5,169.2 L51.5,169.2 Q53.5,169.2 54.8,167.7 L55.1,167.5 Q56.4,166.0 55.7,164.1 L54.6,160.8 M4.5,172.0 L35.0,172.0 Q37.0,172.0 38.0,173.7 L43.7,184.0 Q44.5,185.5 45.9,186.5 L45.9,186.6 Q47.2,187.5 48.4,186.5 L48.8,186.1 Q49.6,185.5 49.3,184.6 L49.0,183.6 M4.5,173.7 L13.3,173.7 Q15.8,173.7 17.6,175.4 L35.1,193.1 Q36.8,194.8 39.3,194.8 L56.2,194.8 Q58.7,194.8 60.5,193.1 L65.8,187.8 M4.5,174.7 L12.9,174.7 Q15.4,174.7 17.1,176.5 L34.6,194.1 Q36.4,195.9 38.9,195.9 L56.6,195.9 Q59.1,195.9 60.9,194.1 L66.5,188.5 M4.5,175.8 L12.4,175.8 Q14.9,175.8 16.7,177.5 L34.2,195.2 Q35.9,196.9 38.4,196.9 L57.1,196.9 Q59.6,196.9 61.3,195.2 L67.3,189.3 M4.5,176.8 L12.0,176.8 Q14.5,176.8 16.3,178.6 L33.7,196.2 Q35.5,198.0 38.0,198.0 L57.5,198.0 Q60.0,198.0 61.8,196.2 L68.0,190.0 M4.5,177.9 L11.6,177.9 Q14.1,177.9 15.8,179.6 L33.3,197.3 Q35.1,199.1 37.6,199.1 L57.9,199.1 Q60.4,199.1 62.2,197.3 L68.7,190.7 M4.5,178.9 L11.1,178.9 Q13.6,178.9 15.4,180.7 L32.9,198.3 Q34.6,200.1 37.1,200.1 L58.4,200.1 Q60.9,200.1 62.6,198.3 L69.5,191.5 M4.5,180.0 L10.7,180.0 Q13.2,180.0 14.9,181.7 L32.4,199.4 Q34.2,201.2 36.7,201.2 L58.8,201.2 Q61.3,201.2 63.1,199.4 L70.2,192.2 M17.3,193.8 L17.6,195.9 Q18.0,198.0 16.3,199.3 L12.2,202.5 Q10.2,204.0 9.7,206.5 L9.7,206.5 Q9.2,209.0 9.2,211.5 L9.2,267.0 M11.6,267.0 L11.6,212.8 Q11.6,211.0 12.8,209.7 L12.8,209.7 Q14.0,208.4 15.8,208.4 L28.0,208.4 Q30.0,208.4 31.4,209.8 L35.4,213.9 Q36.5,215.0 38.0,214.8 L38.0,214.8 Q39.6,214.5 39.8,212.9 L40.3,207.5 M13.5,267.0 L13.5,215.7 Q13.5,214.0 14.8,212.8 L14.8,212.8 Q16.0,211.6 17.7,211.6 L28.0,211.6 Q30.0,211.6 31.3,213.2 L40.7,224.9 Q42.0,226.5 44.0,226.9 L44.5,227.1 Q46.5,227.5 47.9,226.1 L48.6,225.4 Q49.6,224.5 49.7,223.2 L49.8,221.8 M15.5,267.0 L15.5,218.7 Q15.5,217.0 16.8,215.8 L16.8,215.8 Q18.0,214.6 19.7,214.6 L26.0,214.6 Q28.0,214.6 29.1,216.3 L38.9,231.3 Q40.0,233.0 41.0,234.7 L44.0,240.0 M21.4,221.0 L21.7,223.5 Q22.0,225.5 20.5,226.8 L18.8,228.3 Q17.5,229.5 17.1,231.2 L17.1,231.2 Q16.8,233.0 16.8,234.8 L16.8,250.0 M19.0,231.0 L19.0,249.5 Q19.0,251.5 21.0,251.5 L42.2,251.5 Q43.4,251.5 44.2,250.7 L44.2,250.7 Q45.0,249.9 45.0,248.7 L45.0,236.0 M17.5,231.0 L17.5,251.0 Q17.5,253.0 19.5,253.0 L42.2,253.0 Q44.0,253.0 45.2,251.8 L45.2,251.8 Q46.5,250.5 46.5,248.7 L46.5,236.0 M16.0,231.0 L16.0,252.5 Q16.0,254.5 18.0,254.5 L42.6,254.5 Q44.6,254.5 46.0,253.1 L46.6,252.5 Q48.0,251.1 48.0,249.1 L48.0,236.0 M45.0,238.0 L42.6,229.9 Q42.0,228.0 40.0,227.7 L33.8,226.6 Q33.0,226.5 32.2,226.2 L31.5,226.0 M46.5,240.0 L45.1,237.7 Q44.0,236.0 42.1,235.5 L38.0,234.5 M48.0,247.0 L46.5,246.0 Q45.0,245.0 43.2,244.9 L40.0,244.6 M6.0,262 V275.6 Q6.0,283.6 14.0,283.6 H22.0 M7.0,262 V274.7 Q7.0,282.7 14.9,282.7 H23.3 M7.9,262 V273.7 Q7.9,281.7 15.9,281.7 H24.6 M8.8,262 V272.8 Q8.8,280.8 16.9,280.8 H25.9 M9.8,262 V271.8 Q9.8,279.8 17.8,279.8 H27.2 M10.8,262 V270.9 Q10.8,278.9 18.8,278.9 H28.5 M11.7,262 V269.9 Q11.7,277.9 19.7,277.9 H29.8 M12.6,262 V269.0 Q12.6,277.0 20.6,277.0 H31.1 M22.0,279.0 L29.8,279.0 Q31.0,279.0 31.8,278.0 L31.8,278.0 Q32.5,277.0 32.1,275.8 L31.2,272.6 M21.8,256.0 L21.8,284.5 M20.2,256.0 L20.2,284.5 M18.8,256.0 L18.8,284.5 M17.2,256.0 L17.2,284.5 M94.4,149.2 L94.4,163.5 Q94.4,165.2 93.2,166.3 L93.2,166.3 Q91.9,167.4 90.2,167.4 L89.1,167.4 Q87.8,167.4 87.3,166.2 L86.8,165.0 M96.0,149.2 L96.0,168.8 Q96.0,170.5 94.8,171.6 L94.8,171.6 Q93.5,172.7 91.8,172.7 L79.8,172.7 Q78.3,172.7 77.8,171.2 L77.3,169.8 M97.6,149.2 L97.6,173.7 Q97.6,175.4 96.4,176.5 L96.4,176.5 Q95.1,177.6 93.4,177.6 L75.3,177.6 Q73.5,177.6 73.0,175.9 L72.5,174.2 M99.2,149.2 L99.2,173.8 Q99.2,175.5 98.0,176.6 L98.0,176.6 Q96.7,177.7 95.0,177.7 L89.8,177.7 Q87.8,177.7 87.3,175.8 L86.8,173.8 M123.6,165.3 L126.2,169.2 Q127.0,170.3 128.2,170.8 L128.2,170.8 Q129.5,171.3 130.8,171.3 L154.0,171.3 M134.2,169.8 L135.5,171.4 Q136.5,172.5 138.0,172.5 L154.0,172.5 M123.8,174.6 L125.7,175.7 Q127.0,176.4 128.5,176.4 L154.0,176.4 M126.0,177.6 L154.0,177.6 M154.0,179.6 L139.0,179.6 Q137.0,179.6 135.4,180.8 L128.6,186.1 Q127.0,187.3 125.0,187.4 L106.0,188.5 Q104.0,188.6 102.2,189.4 L96.0,192.0 M154.0,180.7 L138.4,180.7 Q136.4,180.7 134.7,181.7 L126.7,186.6 Q125.0,187.7 123.0,187.9 L105.0,189.3 Q103.0,189.5 101.2,190.3 L95.0,193.2 M154.0,181.7 L137.8,181.7 Q135.8,181.7 134.0,182.6 L124.8,187.2 Q123.0,188.1 121.0,188.3 L104.0,190.2 Q102.0,190.4 100.2,191.3 L94.0,194.4 M154.0,182.8 L137.2,182.8 Q135.2,182.8 133.3,183.5 L122.9,187.7 Q121.0,188.5 119.0,188.8 L103.0,191.0 Q101.0,191.3 99.2,192.2 L93.0,195.6 M154.0,183.8 L136.6,183.8 Q134.6,183.8 132.7,184.4 L120.9,188.3 Q119.0,188.9 117.0,189.2 L102.0,191.9 Q100.0,192.2 98.3,193.2 L92.0,196.8 M154.0,184.8 L136.0,184.8 Q134.0,184.8 132.1,185.4 L118.9,188.8 Q117.0,189.3 115.0,189.7 L101.0,192.7 Q99.0,193.1 97.3,194.1 L91.0,198.0 M154.0,185.9 L135.4,185.9 Q133.4,185.9 131.4,186.3 L117.0,189.3 Q115.0,189.7 113.1,190.2 L99.9,193.5 Q98.0,194.0 96.3,195.1 L90.0,199.2 M154.0,186.9 L134.8,186.9 Q132.8,186.9 130.8,187.3 L115.0,189.8 Q113.0,190.1 111.1,190.7 L98.9,194.3 Q97.0,194.9 95.4,196.0 L89.0,200.4 M154.0,188.0 L134.2,188.0 Q132.2,188.0 130.2,188.2 L113.0,190.3 Q111.0,190.5 109.1,191.2 L97.9,195.1 Q96.0,195.8 94.4,197.0 L88.0,201.6 M68.7,188.0 L95.8,209.0 Q98.1,210.9 100.6,212.6 L126.9,230.5 Q128.8,231.8 131.1,232.2 L131.1,232.2 Q133.3,232.6 135.6,232.6 L154.0,232.6 M76.9,188.3 L99.6,206.1 Q101.9,208.0 104.4,209.6 L126.2,224.3 Q128.1,225.6 130.4,226.0 L130.4,226.0 Q132.6,226.4 134.9,226.4 L154.0,226.4 M85.4,188.1 L103.6,202.7 Q106.0,204.6 108.5,206.2 L125.9,217.8 Q127.8,219.1 130.0,219.5 L130.0,219.5 Q132.3,219.9 134.5,219.9 L154.0,219.9 M95.7,188.8 L109.0,199.8 Q111.3,201.7 113.9,203.3 L126.3,211.4 Q128.2,212.6 130.4,213.0 L130.4,213.0 Q132.7,213.4 135.0,213.4 L154.0,213.4 M103.7,187.6 L111.9,194.8 Q114.1,196.8 116.7,198.4 L123.8,202.8 Q125.8,203.9 128.0,204.3 L128.0,204.3 Q130.3,204.8 132.6,204.8 L154.0,204.8 M112.9,188.8 L116.5,192.5 Q118.6,194.6 121.3,196.0 L123.5,197.3 Q125.5,198.3 127.8,198.8 L127.8,198.8 Q130.0,199.2 132.3,199.2 L154.0,199.2 M123.6,187.0 L125.5,197.2 Q125.8,199.2 127.8,199.2 L154.0,199.2 M70.2,193.6 L97.1,214.5 Q99.5,216.3 102.0,218.0 L128.1,235.8 Q130.0,237.0 132.2,237.4 L132.2,237.4 Q134.5,237.8 136.8,237.8 L154.0,237.8 M78.7,194.0 L101.0,211.6 Q103.3,213.4 105.8,215.1 L127.3,229.6 Q129.2,230.8 131.5,231.2 L131.5,231.2 Q133.7,231.7 136.0,231.7 L154.0,231.7 M87.5,194.6 L104.6,208.3 Q106.9,210.2 109.4,211.8 L125.6,222.5 Q127.6,223.8 129.8,224.2 L129.8,224.2 Q132.1,224.6 134.3,224.6 L154.0,224.6 M97.8,195.5 L109.0,204.9 Q111.3,206.8 113.8,208.4 L124.0,215.0 Q126.0,216.2 128.2,216.6 L128.2,216.6 Q130.5,217.0 132.8,217.0 L154.0,217.0 M107.2,195.0 L116.3,202.8 Q118.5,204.8 121.1,206.4 L129.1,211.4 Q131.1,212.6 133.3,213.0 L133.3,213.0 Q135.6,213.4 137.9,213.4 L154.0,213.4 M116.4,195.0 L117.5,196.7 Q118.4,198.1 120.1,198.7 L120.1,198.7 Q121.7,199.2 123.4,199.5 L123.9,199.6 Q126.2,200.0 128.5,200.0 L154.0,200.0 M125.5,194.1 L126.9,197.3 Q127.7,199.2 129.7,199.2 L154.0,199.2 M67.1,200.2 L95.9,222.4 Q98.3,224.2 100.8,225.9 L128.7,245.0 Q130.6,246.3 132.9,246.7 L132.9,246.7 Q135.1,247.1 137.4,247.1 L154.0,247.1 M77.5,201.0 L100.6,219.1 Q103.0,220.9 105.4,222.6 L127.7,237.6 Q129.6,238.8 131.8,239.2 L131.8,239.2 Q134.1,239.6 136.4,239.6 L154.0,239.6 M87.0,200.9 L105.2,215.5 Q107.5,217.3 110.0,219.0 L127.3,230.5 Q129.2,231.8 131.5,232.2 L131.5,232.2 Q133.7,232.6 136.0,232.6 L154.0,232.6 M96.5,202.0 L109.0,212.5 Q111.4,214.4 113.9,216.0 L125.5,223.5 Q127.4,224.7 129.7,225.1 L129.7,225.1 Q131.9,225.5 134.2,225.5 L154.0,225.5 M103.5,200.5 L113.2,208.8 Q115.4,210.8 118.0,212.4 L126.7,217.8 Q128.6,219.1 130.9,219.5 L130.9,219.5 Q133.1,219.9 135.4,219.9 L154.0,219.9 M114.9,201.1 L120.4,206.3 Q122.6,208.3 125.2,209.8 L129.5,212.3 Q131.5,213.5 133.7,213.9 L133.7,213.9 Q136.0,214.3 138.3,214.3 L154.0,214.3 M124.3,201.0 L125.0,202.3 Q125.5,203.5 126.7,203.7 L126.7,203.7 Q127.9,203.9 129.1,204.2 L130.1,204.3 Q132.4,204.8 134.7,204.8 L154.0,204.8 M131.4,201.5 L132.5,203.1 Q133.6,204.8 135.5,204.8 L154.0,204.8 M59.9,207.3 L93.1,232.8 Q95.5,234.6 98.0,236.3 L130.4,258.6 Q132.3,259.9 134.6,260.3 L134.6,260.3 Q136.8,260.7 139.1,260.7 L154.0,260.7 M71.3,208.4 L98.2,229.3 Q100.6,231.1 103.1,232.8 L129.2,250.6 Q131.1,251.8 133.3,252.2 L133.3,252.2 Q135.6,252.7 137.9,252.7 L154.0,252.7 M78.5,207.1 L101.8,225.4 Q104.2,227.3 106.6,228.9 L129.1,244.1 Q131.0,245.4 133.3,245.8 L133.3,245.8 Q135.5,246.2 137.8,246.2 L154.0,246.2 M87.7,206.7 L106.2,221.4 Q108.5,223.3 111.0,225.0 L128.6,236.7 Q130.5,237.9 132.8,238.3 L132.8,238.3 Q135.0,238.8 137.3,238.8 L154.0,238.8 M98.6,207.0 L111.4,217.5 Q113.7,219.5 116.2,221.1 L128.0,228.7 Q129.9,229.9 132.2,230.3 L132.2,230.3 Q134.4,230.8 136.7,230.8 L154.0,230.8 M107.3,207.6 L114.8,214.3 Q117.0,216.3 119.6,217.8 L126.0,221.7 Q127.9,222.9 130.2,223.3 L130.2,223.3 Q132.4,223.7 134.7,223.7 L154.0,223.7 M115.7,208.3 L118.2,211.1 Q120.3,213.3 122.9,214.6 L124.0,215.2 Q126.0,216.2 128.3,216.6 L128.3,216.6 Q130.5,217.0 132.8,217.0 L154.0,217.0 M124.8,208.1 L126.0,209.8 Q127.0,211.3 128.7,212.0 L128.7,212.0 Q130.4,212.6 132.2,212.9 L132.7,213.0 Q134.9,213.4 137.2,213.4 L154.0,213.4 M134.0,207.6 L135.5,211.5 Q136.2,213.4 138.2,213.4 L154.0,213.4 M59.5,215.2 L91.8,250.8 Q93.4,252.5 94.2,254.8 L94.2,254.8 Q94.9,257.0 94.9,259.4 L94.9,285.0 M67.2,215.2 L96.8,238.1 Q99.2,239.9 101.7,241.6 L130.5,261.3 Q132.4,262.6 134.7,263.0 L134.7,263.0 Q136.9,263.4 139.2,263.4 L154.0,263.4 M76.2,214.0 L101.1,233.5 Q103.4,235.3 105.9,237.0 L130.0,253.3 Q131.9,254.5 134.1,254.9 L134.1,254.9 Q136.4,255.3 138.7,255.3 L154.0,255.3 M87.0,214.6 L106.4,230.1 Q108.7,231.9 111.2,233.6 L129.7,245.9 Q131.6,247.2 133.9,247.6 L133.9,247.6 Q136.1,248.0 138.4,248.0 L154.0,248.0 M94.4,215.5 L108.1,226.7 Q110.4,228.6 112.9,230.2 L125.7,238.5 Q127.6,239.7 129.8,240.1 L129.8,240.1 Q132.1,240.5 134.4,240.5 L154.0,240.5 M104.0,213.7 L113.9,222.2 Q116.2,224.2 118.8,225.8 L127.7,231.4 Q129.7,232.6 131.9,233.0 L131.9,233.0 Q134.2,233.4 136.5,233.4 L154.0,233.4 M114.6,213.9 L118.4,217.7 Q120.5,219.8 123.2,221.3 L125.7,222.7 Q127.7,223.8 130.0,224.2 L130.0,224.2 Q132.2,224.6 134.5,224.6 L154.0,224.6 M122.7,213.3 L123.0,214.5 Q123.2,215.3 124.0,215.3 L124.0,215.3 Q124.9,215.3 125.7,215.5 L127.1,215.7 Q129.4,216.1 131.7,216.1 L154.0,216.1 M131.4,214.5 L132.5,215.7 Q133.6,217.0 135.3,217.0 L154.0,217.0 M60.6,220.9 L85.8,248.7 Q87.4,250.4 88.1,252.7 L88.1,252.7 Q88.9,254.9 88.9,257.3 L88.9,285.0 M71.3,221.0 L100.8,253.5 Q102.4,255.3 103.1,257.5 L103.1,257.5 Q103.9,259.8 103.9,262.2 L103.9,285.0 M79.6,221.7 L103.5,240.4 Q105.8,242.3 108.3,243.9 L131.4,259.5 Q133.3,260.8 135.5,261.2 L135.5,261.2 Q137.8,261.6 140.1,261.6 L154.0,261.6 M87.9,220.0 L106.8,235.1 Q109.1,236.9 111.6,238.6 L129.6,250.6 Q131.5,251.8 133.8,252.2 L133.8,252.2 Q136.0,252.7 138.3,252.7 L154.0,252.7 M98.9,221.6 L112.2,232.6 Q114.5,234.5 117.0,236.1 L129.4,244.2 Q131.3,245.4 133.6,245.8 L133.6,245.8 Q135.8,246.2 138.1,246.2 L154.0,246.2 M106.5,220.1 L115.2,227.6 Q117.4,229.6 120.0,231.2 L127.6,235.8 Q129.5,237.0 131.8,237.4 L131.8,237.4 Q134.0,237.8 136.3,237.8 L154.0,237.8 M117.0,221.9 L120.2,225.2 Q122.3,227.4 124.9,228.8 L126.8,229.8 Q128.8,230.8 131.1,231.2 L131.1,231.2 Q133.3,231.7 135.6,231.7 L154.0,231.7 M124.9,221.9 L125.5,223.3 Q126.0,224.3 127.1,224.5 L127.1,224.5 Q128.2,224.7 129.3,224.9 L130.4,225.1 Q132.7,225.5 135.0,225.5 L154.0,225.5 M135.8,221.1 L136.9,222.4 Q138.0,223.7 139.7,223.7 L154.0,223.7 M57.3,228.7 L70.8,243.6 Q72.4,245.4 73.1,247.6 L73.1,247.6 Q73.9,249.9 73.9,252.2 L73.9,285.0 M67.0,228.1 L85.7,248.6 Q87.3,250.4 88.0,252.6 L88.0,252.6 Q88.8,254.9 88.8,257.3 L88.8,285.0 M76.3,228.4 L99.5,253.9 Q101.1,255.7 101.8,257.9 L101.8,257.9 Q102.6,260.2 102.6,262.5 L102.6,285.0 M86.4,226.9 L106.7,243.0 Q109.0,244.9 111.5,246.5 L131.0,259.5 Q132.9,260.8 135.1,261.2 L135.1,261.2 Q137.4,261.6 139.7,261.6 L154.0,261.6 M94.6,227.9 L109.9,240.3 Q112.2,242.2 114.7,243.9 L129.1,253.3 Q131.0,254.5 133.3,254.9 L133.3,254.9 Q135.5,255.3 137.8,255.3 L154.0,255.3 M103.6,226.7 L114.0,235.6 Q116.3,237.5 118.8,239.1 L128.3,245.1 Q130.2,246.3 132.4,246.7 L132.4,246.7 Q134.7,247.1 137.0,247.1 L154.0,247.1 M114.0,228.2 L119.0,232.9 Q121.1,235.0 123.7,236.5 L127.5,238.6 Q129.4,239.7 131.7,240.1 L131.7,240.1 Q133.9,240.5 136.2,240.5 L154.0,240.5 M123.4,226.9 L124.4,228.5 Q125.3,229.9 126.8,230.4 L126.8,230.4 Q128.4,230.8 130.0,231.1 L130.6,231.2 Q132.9,231.7 135.2,231.7 L154.0,231.7 M133.4,226.7 L134.5,227.0 Q135.6,227.3 136.7,227.3 L154.0,227.3 M140.5,226.8 L141.7,229.0 Q142.7,230.8 144.7,230.8 L154.0,230.8 M60.8,233.1 L69.4,242.6 Q70.9,244.3 71.7,246.6 L71.7,246.6 Q72.4,248.8 72.4,251.2 L72.4,285.0 M69.4,233.8 L82.0,247.8 Q83.6,249.5 84.4,251.8 L84.4,251.8 Q85.1,254.0 85.1,256.4 L85.1,285.0 M79.6,233.3 L97.0,252.5 Q98.6,254.2 99.4,256.5 L99.4,256.5 Q100.1,258.7 100.1,261.1 L100.1,285.0 M88.3,235.1 L106.9,255.5 Q108.5,257.3 109.2,259.5 L109.2,259.5 Q110.0,261.8 110.0,264.1 L110.0,285.0 M99.1,234.3 L113.0,245.8 Q115.3,247.7 117.8,249.3 L130.8,257.8 Q132.7,259.0 135.0,259.4 L135.0,259.4 Q137.2,259.8 139.5,259.8 L154.0,259.8 M107.6,234.2 L117.4,242.5 Q119.6,244.5 122.2,246.0 L130.9,251.5 Q132.9,252.8 135.1,253.2 L135.1,253.2 Q137.4,253.6 139.6,253.6 L154.0,253.6 M115.5,232.8 L121.2,238.1 Q123.4,240.1 126.0,241.6 L130.4,244.2 Q132.4,245.4 134.7,245.8 L134.7,245.8 Q136.9,246.2 139.2,246.2 L154.0,246.2 M124.5,234.9 L125.5,236.5 Q126.3,237.9 127.8,238.4 L127.8,238.4 Q129.4,238.8 130.9,239.1 L131.6,239.2 Q133.9,239.6 136.1,239.6 L154.0,239.6 M135.4,235.1 L136.5,236.5 Q137.6,237.8 139.4,237.8 L154.0,237.8 M58.4,241.3 L58.4,241.3 Q58.4,241.3 58.4,241.3 L59.1,243.6 Q59.9,245.8 59.9,248.2 L59.9,285.0 M67.2,241.9 L67.8,242.6 Q68.5,243.3 68.8,244.2 L69.2,245.6 Q70.0,247.8 70.0,250.2 L70.0,285.0 M75.9,240.8 L81.9,247.5 Q83.5,249.2 84.3,251.5 L84.3,251.5 Q85.0,253.7 85.0,256.1 L85.0,285.0 M86.7,241.7 L97.0,253.0 Q98.6,254.7 99.3,257.0 L99.3,257.0 Q100.1,259.2 100.1,261.6 L100.1,285.0 M96.0,241.2 L110.7,257.4 Q112.2,259.1 113.0,261.4 L113.0,261.4 Q113.7,263.6 113.7,266.0 L113.7,285.0 M105.4,241.5 L116.2,250.7 Q118.5,252.6 121.0,254.2 L130.9,260.5 Q132.8,261.7 135.1,262.1 L135.1,262.1 Q137.3,262.5 139.6,262.5 L154.0,262.5 M113.5,240.9 L119.3,246.3 Q121.5,248.3 124.1,249.8 L128.6,252.5 Q130.6,253.6 132.9,254.0 L132.9,254.0 Q135.1,254.4 137.4,254.4 L154.0,254.4 M124.1,241.4 L125.8,243.4 Q127.3,245.3 129.4,246.2 L129.5,246.3 Q131.6,247.2 133.9,247.6 L133.9,247.6 Q136.1,248.0 138.4,248.0 L154.0,248.0 M132.2,241.2 L133.6,244.4 Q134.4,246.2 136.4,246.2 L154.0,246.2 M61.2,247.0 L61.0,246.8 Q60.9,246.6 60.9,246.9 L61.6,248.9 Q62.4,251.1 62.4,253.5 L62.4,285.0 M70.3,247.5 L70.7,247.9 Q71.1,248.4 71.3,248.9 L71.8,250.6 Q72.6,252.9 72.6,255.2 L72.6,285.0 M78.4,247.6 L78.4,247.6 Q78.4,247.6 78.4,247.6 L79.1,249.8 Q79.9,252.1 79.9,254.5 L79.9,285.0 M89.8,248.2 L92.0,250.6 Q93.6,252.3 94.3,254.6 L94.3,254.6 Q95.1,256.8 95.1,259.2 L95.1,285.0 M98.4,247.0 L106.8,256.2 Q108.4,258.0 109.2,260.2 L109.2,260.2 Q109.9,262.5 109.9,264.8 L109.9,285.0 M107.7,247.4 L119.4,260.3 Q121.0,262.0 121.7,264.3 L121.7,264.3 Q122.5,266.5 122.5,268.9 L122.5,285.0 M116.3,247.9 L121.5,252.8 Q123.7,254.9 126.3,256.4 L130.4,258.8 Q132.4,259.9 134.6,260.3 L134.6,260.3 Q136.9,260.7 139.2,260.7 L154.0,260.7 M124.7,247.7 L126.1,249.5 Q127.3,251.2 129.2,252.0 L129.2,252.0 Q131.2,252.8 133.2,253.1 L133.4,253.2 Q135.7,253.6 137.9,253.6 L154.0,253.6 M133.8,247.3 L134.9,248.5 Q136.0,249.8 137.6,249.8 L154.0,249.8 M58.9,253.8 L58.7,253.6 Q58.6,253.5 58.7,253.7 L59.3,255.8 Q60.1,258.0 60.1,260.4 L60.1,285.0 M67.9,254.8 L68.2,255.1 Q68.4,255.4 68.5,255.7 L69.1,257.6 Q69.9,259.9 69.9,262.2 L69.9,285.0 M76.3,252.6 L76.1,252.4 Q75.9,252.2 76.0,252.5 L76.6,254.4 Q77.4,256.7 77.4,259.1 L77.4,285.0 M85.7,254.2 L85.8,254.4 Q86.0,254.6 86.1,254.9 L86.8,256.9 Q87.5,259.1 87.5,261.5 L87.5,285.0 M94.7,253.0 L94.8,253.1 Q94.8,253.2 94.9,253.3 L95.6,255.4 Q96.3,257.7 96.3,260.1 L96.3,285.0 M105.6,254.2 L107.1,255.8 Q108.6,257.5 109.3,259.6 L109.4,259.7 Q110.1,262.0 110.1,264.4 L110.1,285.0 M113.8,254.7 L118.2,259.7 Q119.8,261.4 120.6,263.7 L120.6,263.7 Q121.3,265.9 121.3,268.3 L121.3,285.0 M122.7,254.0 L125.2,256.6 Q127.2,258.8 129.9,260.2 L130.8,260.7 Q132.9,261.7 135.1,262.1 L135.1,262.1 Q137.4,262.5 139.6,262.5 L154.0,262.5 M131.7,253.4 L131.2,254.1 Q130.9,254.5 131.2,254.1 L131.2,254.1 Q131.4,253.6 131.9,253.7 L133.6,254.0 Q135.9,254.4 138.2,254.4 L154.0,254.4 M61.8,260.1 L62.1,260.4 Q62.4,260.7 62.5,261.1 L63.1,263.0 Q63.9,265.2 63.9,267.6 L63.9,285.0 M70.3,259.9 L70.7,260.3 Q71.0,260.7 71.2,261.1 L71.7,262.9 Q72.5,265.2 72.5,267.5 L72.5,285.0 M78.5,260.3 L78.6,260.4 Q78.6,260.5 78.7,260.6 L79.4,262.7 Q80.1,265.0 80.1,267.4 L80.1,285.0 M89.5,261.2 L89.5,261.3 Q89.6,261.4 89.7,261.5 L90.4,263.7 Q91.1,265.9 91.1,268.3 L91.1,285.0 M98.4,261.4 L98.4,261.5 Q98.4,261.5 98.4,261.5 L99.2,263.7 Q99.9,266.0 99.9,268.3 L99.9,285.0 M106.6,259.6 L106.9,259.9 Q107.3,260.3 107.4,260.8 L108.0,262.5 Q108.8,264.8 108.8,267.2 L108.8,285.0 M116.3,259.8 L116.7,260.3 Q117.2,260.8 117.4,261.5 L117.9,263.1 Q118.7,265.3 118.7,267.7 L118.7,285.0 M125.0,259.9 L126.1,261.2 Q127.2,262.5 128.9,262.5 L154.0,262.5 M135.2,260.1 L136.3,261.3 Q137.4,262.5 139.0,262.5 L154.0,262.5 M59.6,266.8 L59.7,266.9 Q59.8,267.1 59.9,267.3 L60.6,269.4 Q61.3,271.6 61.3,274.0 L61.3,285.0 M66.6,265.8 L67.0,266.2 Q67.3,266.5 67.5,267.0 L68.0,268.8 Q68.8,271.0 68.8,273.4 L68.8,285.0 M77.8,265.8 L78.2,266.2 Q78.5,266.6 78.7,267.1 L79.3,268.9 Q80.0,271.1 80.0,273.5 L80.0,285.0 M86.7,267.1 L87.0,267.5 Q87.4,267.9 87.5,268.4 L88.1,270.1 Q88.9,272.4 88.9,274.7 L88.9,285.0 M94.9,267.6 L94.9,267.5 Q94.8,267.4 94.8,267.6 L95.5,269.7 Q96.3,271.9 96.3,274.3 L96.3,285.0 M103.5,266.0 L103.5,266.0 Q103.4,266.0 103.5,266.0 L104.2,268.2 Q104.9,270.5 104.9,272.9 L104.9,285.0 M113.8,265.8 L113.6,265.6 Q113.5,265.4 113.5,265.6 L114.2,267.7 Q115.0,269.9 115.0,272.3 L115.0,285.0 M123.9,266.3 L124.4,266.8 Q124.9,267.3 125.1,268.0 L125.6,269.6 Q126.4,271.8 126.4,274.2 L126.4,285.0 M131.5,265.8 L125.8,259.6 Q124.3,257.8 125.0,260.1 L125.0,260.1 Q125.8,262.3 125.8,264.7 L125.8,285.0 M61.2,273.8 L61.2,273.8 Q61.1,273.7 61.1,273.8 L61.9,276.0 Q62.6,278.2 62.6,280.6 L62.6,285.0 M70.9,274.6 L71.0,274.7 Q71.1,274.9 71.2,275.0 L71.9,277.1 Q72.6,279.4 72.6,281.7 L72.6,285.0 M79.8,272.7 L79.8,272.7 Q79.8,272.7 79.8,272.7 L80.5,274.9 Q81.3,277.2 81.3,279.5 L81.3,285.0 M88.6,272.7 L88.6,272.7 Q88.5,272.6 88.5,272.7 L89.3,274.9 Q90.0,277.1 90.0,279.5 L90.0,285.0 M96.7,273.4 L96.9,273.6 Q97.2,273.9 97.3,274.2 L97.9,276.1 Q98.7,278.4 98.7,280.8 L98.7,285.0 M107.7,272.7 L107.5,272.5 Q107.3,272.3 107.4,272.5 L108.0,274.5 Q108.8,276.8 108.8,279.1 L108.8,285.0 M115.9,273.1 L115.9,273.2 Q116.0,273.3 116.0,273.4 L116.8,275.5 Q117.5,277.8 117.5,280.1 L117.5,285.0 M126.1,273.5 L125.7,273.1 Q125.3,272.7 125.5,273.2 L126.1,274.9 Q126.8,277.2 126.8,279.5 L126.8,285.0 M135.2,274.1 L124.0,261.8 Q122.4,260.0 123.2,262.3 L123.2,262.3 Q123.9,264.5 123.9,266.9 L123.9,285.0 M58.4,183.3 L90.7,208.0 Q93.0,209.9 95.5,211.6 L127.0,233.2 Q128.9,234.4 131.1,234.8 L131.1,234.8 Q133.4,235.2 135.6,235.2 L154.0,235.2 M68.8,183.3 L95.5,204.1 Q97.9,205.9 100.4,207.6 L126.3,225.2 Q128.2,226.5 130.5,226.9 L130.5,226.9 Q132.7,227.3 135.0,227.3 L154.0,227.3 M82.4,183.3 L101.4,198.4 Q103.7,200.3 106.2,202.0 L124.4,214.0 Q126.3,215.3 128.5,215.7 L128.5,215.7 Q130.8,216.1 133.1,216.1 L154.0,216.1 M137.1,197.2 L138.2,198.2 Q139.3,199.2 140.8,199.2 L154.0,199.2 M128.4,197.2 L129.5,198.2 Q130.6,199.2 132.1,199.2 L154.0,199.2 M118.8,202.0 L119.4,203.4 Q119.9,204.4 121.0,204.6 L121.0,204.6 Q122.2,204.8 123.3,205.1 L124.4,205.2 Q126.7,205.6 129.0,205.6 L154.0,205.6 M129.2,210.8 L130.3,212.1 Q131.4,213.4 133.1,213.4 L154.0,213.4 M128.2,196.2 L129.3,197.7 Q130.4,199.2 132.2,199.2 L154.0,199.2 M139.0,196.9 L140.1,198.0 Q141.2,199.2 142.8,199.2 L154.0,199.2 M154.0,215.2 L130.0,215.2 Q128.0,215.2 126.3,214.1 L119.0,209.2 M154.0,220.8 L134.0,220.8 Q132.0,220.8 130.3,219.6 L123.0,214.8 M154.0,234.3 L131.6,234.3 Q129.6,234.3 128.0,233.2 L120.6,228.3 M154.0,248.9 L130.9,248.9 Q128.9,248.9 127.2,247.8 L119.9,242.9 M54.0,285.0 L54.0,266.6 Q54.0,264.6 52.8,263.0 L50.0,259.6 M55.2,285.0 L55.2,272.3 Q55.2,270.3 54.0,268.8 L51.2,265.3 M57.8,285.0 L57.8,259.9 Q57.8,257.9 56.5,256.4 L53.8,252.9 M66.5,285.0 L66.5,261.8 Q66.5,259.8 65.3,258.3 L62.5,254.8 M71.5,285.0 L71.5,271.6 Q71.5,269.6 70.3,268.1 L67.5,264.6 M82.8,285.0 L82.8,260.1 Q82.8,258.1 81.5,256.5 L78.8,253.1 M84.0,285.0 L84.0,272.2 Q84.0,270.2 82.8,268.6 L80.0,265.2 M86.5,285.0 L86.5,250.9 Q86.5,248.9 85.3,247.3 L82.5,243.9 M92.8,285.0 L92.8,257.7 Q92.8,255.7 91.5,254.2 L88.8,250.7 M106.5,285.0 L106.5,267.5 Q106.5,265.5 105.3,264.0 L102.5,260.5 M107.8,285.0 L107.8,270.4 Q107.8,268.4 106.5,266.9 L103.8,263.4 M111.5,285.0 L111.5,256.0 Q111.5,254.0 110.3,252.5 L107.5,249.0 M112.8,285.0 L112.8,266.8 Q112.8,264.8 111.5,263.3 L108.8,259.8 M116.5,285.0 L116.5,259.0 Q116.5,257.0 115.3,255.5 L112.5,252.0 M127.8,285.0 L127.8,262.9 Q127.8,260.9 126.5,259.4 L123.8,255.9 M40.3,188.3 L41.1,189.7 Q41.7,190.8 41.8,192.1 L41.8,192.1 Q41.9,193.3 41.9,194.6 L41.9,199.3 M49.1,207.0 L49.9,208.4 Q50.5,209.5 50.6,210.8 L50.6,210.8 Q50.7,212.0 50.7,213.3 L50.7,252.0 M49.1,211.8 L49.9,213.2 Q50.5,214.3 50.6,215.6 L50.6,215.6 Q50.7,216.8 50.7,218.1 L50.7,246.8 M30.8,225.3 L31.8,227.0 Q32.5,228.3 31.8,229.6 L31.8,229.6 Q31.0,230.8 29.5,230.9 L25.0,231.1 M35.5,225.3 L36.5,227.0 Q37.2,228.3 36.5,229.6 L36.5,229.6 Q35.7,230.8 34.2,230.9 L29.7,231.1 M36.3,234.1 L37.3,235.8 Q38.0,237.1 37.2,238.3 L37.2,238.3 Q36.5,239.6 35.0,239.7 L30.5,239.9 M40.3,234.9 L41.3,236.6 Q42.0,237.9 41.2,239.2 L41.2,239.2 Q40.5,240.4 39.0,240.5 L34.5,240.7 M49.1,235.0 L49.9,236.4 Q50.5,237.5 50.6,238.8 L50.6,238.8 Q50.7,240.0 50.7,241.3 L50.7,285.0 M35.0,263.1 L35.8,264.5 Q36.4,265.6 36.5,266.9 L36.5,266.9 Q36.6,268.1 36.6,269.4 L36.6,286.1 M49.9,268.9 L50.7,270.3 Q51.3,271.4 51.4,272.6 L51.4,272.6 Q51.5,273.9 51.5,275.2 L51.5,287.9 M51.1,276.9 L51.9,278.3 Q52.5,279.4 52.6,280.6 L52.6,280.6 Q52.7,281.9 52.7,283.2 L52.7,288.9 M77.6,164.8 L78.6,166.5 Q79.3,167.8 78.5,169.1 L78.5,169.1 Q77.8,170.3 76.3,170.4 L71.8,170.6 M119.7,183.3 L120.7,185.0 Q121.4,186.3 120.7,187.6 L120.7,187.6 Q119.9,188.8 118.4,188.9 L113.9,189.1 M109.8,183.3 L110.8,185.0 Q111.5,186.3 110.8,187.6 L110.8,187.6 Q110.0,188.8 108.5,188.9 L104.0,189.1 M104.8,187.0 L105.8,188.7 Q106.5,190.0 105.8,191.2 L105.8,191.2 Q105.0,192.5 103.5,192.6 L99.0,192.8 M46.9,256.0 L46.9,285.0 M45.5,256.0 L45.5,285.0 M44.1,256.0 L44.1,285.0 M39.2,266.0 L39.2,285.0 M37.8,266.0 L37.8,285.0 M24.5,285.0 L24.5,264.0 Q24.5,262.0 25.6,260.3 L25.9,259.7 Q27.0,258.0 29.0,257.6 L32.0,257.0 M26.0,285.0 L26.0,267.8 Q26.0,266.0 27.0,264.5 L27.0,264.5 Q28.0,263.0 29.8,263.2 L33.0,263.5 M151.5,285.0 L151.5,268.9 Q151.5,267.5 150.5,266.5 L150.5,266.5 Q149.5,265.5 148.6,264.4 L135.5,248.5 M149.9,285.0 L149.9,270.4 Q149.9,269.0 148.9,268.0 L148.9,268.0 Q147.9,267.0 147.0,265.9 L132.9,249.0 M148.4,285.0 L148.4,271.9 Q148.4,270.5 147.4,269.5 L147.4,269.5 Q146.4,268.5 145.5,267.4 L130.4,249.5 M146.8,285.0 L146.8,273.4 Q146.8,272.0 145.8,271.0 L145.8,271.0 Q144.8,270.0 143.9,268.9 L127.8,250.0 M145.3,285.0 L145.3,274.9 Q145.3,273.5 144.3,272.5 L144.3,272.5 Q143.3,271.5 142.4,270.4 L125.3,250.5 M143.8,285.0 L143.8,276.4 Q143.8,275.0 142.8,274.0 L142.8,274.0 Q141.8,273.0 140.8,271.9 L122.8,251.0 M142.2,285.0 L142.2,277.9 Q142.2,276.5 141.2,275.5 L141.2,275.5 Q140.2,274.5 139.3,273.4 L120.2,251.5 M140.7,285.0 L140.7,279.4 Q140.7,278.0 139.7,277.0 L139.7,277.0 Q138.7,276.0 137.7,274.9 L117.7,252.0 M139.1,285.0 L139.1,280.9 Q139.1,279.5 138.1,278.5 L138.1,278.5 Q137.1,277.5 136.2,276.4 L115.1,252.5 M54.9,200.0 L54.9,259.6 Q54.9,261.6 56.0,263.3 L56.3,263.9 Q57.4,265.6 57.4,267.6 L57.4,285.0 M53.5,200.0 L53.5,260.0 Q53.5,262.0 54.6,263.7 L54.9,264.3 Q56.0,266.0 56.0,268.0 L56.0,285.0 M52.1,200.0 L52.1,260.4 Q52.1,262.4 53.2,264.1 L53.5,264.7 Q54.6,266.4 54.6,268.4 L54.6,285.0" fill="none" stroke="#f08c92" stroke-width="0.85" stroke-linecap="round" stroke-linejoin="round"/>
<g transform="translate(30.7 159.3) rotate(45)" fill="#f28a9c"><ellipse rx="2.6" ry="1.3"/><ellipse rx="1.3" ry="2.1"/></g>
<g transform="translate(53.7 159.3) rotate(45)" fill="#f28a9c"><ellipse rx="2.6" ry="1.3"/><ellipse rx="1.3" ry="2.1"/></g>
<g transform="translate(48.3 182.5) rotate(45)" fill="#f28a9c"><ellipse rx="2.6" ry="1.3"/><ellipse rx="1.3" ry="2.1"/></g>
<g transform="translate(16.4 192.4) rotate(45)" fill="#f28a9c"><ellipse rx="2.6" ry="1.3"/><ellipse rx="1.3" ry="2.1"/></g>
<g transform="translate(39.5 206.0) rotate(45)" fill="#f28a9c"><ellipse rx="2.6" ry="1.3"/><ellipse rx="1.3" ry="2.1"/></g>
<g transform="translate(49.1 220.4) rotate(45)" fill="#f28a9c"><ellipse rx="2.6" ry="1.3"/><ellipse rx="1.3" ry="2.1"/></g>
<g transform="translate(20.4 219.6) rotate(45)" fill="#f28a9c"><ellipse rx="2.6" ry="1.3"/><ellipse rx="1.3" ry="2.1"/></g>
<g transform="translate(39.5 187.3) rotate(45)" fill="#f28a9c"><ellipse rx="2.6" ry="1.3"/><ellipse rx="1.3" ry="2.1"/></g>
<g transform="translate(48.3 206.0) rotate(45)" fill="#f28a9c"><ellipse rx="2.6" ry="1.3"/><ellipse rx="1.3" ry="2.1"/></g>
<g transform="translate(48.3 210.8) rotate(45)" fill="#f28a9c"><ellipse rx="2.6" ry="1.3"/><ellipse rx="1.3" ry="2.1"/></g>
<g transform="translate(30.0 224.3) rotate(45)" fill="#f28a9c"><ellipse rx="2.6" ry="1.3"/><ellipse rx="1.3" ry="2.1"/></g>
<g transform="translate(34.7 224.3) rotate(45)" fill="#f28a9c"><ellipse rx="2.6" ry="1.3"/><ellipse rx="1.3" ry="2.1"/></g>
<g transform="translate(35.5 233.1) rotate(45)" fill="#f28a9c"><ellipse rx="2.6" ry="1.3"/><ellipse rx="1.3" ry="2.1"/></g>
<g transform="translate(39.5 233.9) rotate(45)" fill="#f28a9c"><ellipse rx="2.6" ry="1.3"/><ellipse rx="1.3" ry="2.1"/></g>
<g transform="translate(48.3 234.0) rotate(45)" fill="#f28a9c"><ellipse rx="2.6" ry="1.3"/><ellipse rx="1.3" ry="2.1"/></g>
<g transform="translate(30.7 225.3) rotate(45)" fill="#f28a9c"><ellipse rx="2.6" ry="1.3"/><ellipse rx="1.3" ry="2.1"/></g>
<g transform="translate(36.5 233.4) rotate(45)" fill="#f28a9c"><ellipse rx="2.6" ry="1.3"/><ellipse rx="1.3" ry="2.1"/></g>
<g transform="translate(38.8 243.7) rotate(45)" fill="#f28a9c"><ellipse rx="2.6" ry="1.3"/><ellipse rx="1.3" ry="2.1"/></g>
<g transform="translate(34.2 262.1) rotate(45)" fill="#f28a9c"><ellipse rx="2.6" ry="1.3"/><ellipse rx="1.3" ry="2.1"/></g>
<g transform="translate(29.6 271.3) rotate(45)" fill="#f28a9c"><ellipse rx="2.6" ry="1.3"/><ellipse rx="1.3" ry="2.1"/></g>
<g transform="translate(49.1 267.9) rotate(45)" fill="#f28a9c"><ellipse rx="2.6" ry="1.3"/><ellipse rx="1.3" ry="2.1"/></g>
<g transform="translate(50.3 275.9) rotate(45)" fill="#f28a9c"><ellipse rx="2.6" ry="1.3"/><ellipse rx="1.3" ry="2.1"/></g>
<g transform="translate(21.5 219.6) rotate(45)" fill="#f28a9c"><ellipse rx="2.6" ry="1.3"/><ellipse rx="1.3" ry="2.1"/></g>
<g transform="translate(86.3 164.2) rotate(45)" fill="#f28a9c"><ellipse rx="2.6" ry="1.3"/><ellipse rx="1.3" ry="2.1"/></g>
<g transform="translate(76.8 169.0) rotate(45)" fill="#f28a9c"><ellipse rx="2.6" ry="1.3"/><ellipse rx="1.3" ry="2.1"/></g>
<g transform="translate(72.0 173.4) rotate(45)" fill="#f28a9c"><ellipse rx="2.6" ry="1.3"/><ellipse rx="1.3" ry="2.1"/></g>
<g transform="translate(86.3 173.0) rotate(45)" fill="#f28a9c"><ellipse rx="2.6" ry="1.3"/><ellipse rx="1.3" ry="2.1"/></g>
<g transform="translate(95.1 182.0) rotate(45)" fill="#f28a9c"><ellipse rx="2.6" ry="1.3"/><ellipse rx="1.3" ry="2.1"/></g>
<g transform="translate(91.1 182.5) rotate(45)" fill="#f28a9c"><ellipse rx="2.6" ry="1.3"/><ellipse rx="1.3" ry="2.1"/></g>
<g transform="translate(104.0 186.0) rotate(45)" fill="#f28a9c"><ellipse rx="2.6" ry="1.3"/><ellipse rx="1.3" ry="2.1"/></g>
<g transform="translate(109.0 182.3) rotate(45)" fill="#f28a9c"><ellipse rx="2.6" ry="1.3"/><ellipse rx="1.3" ry="2.1"/></g>
<g transform="translate(76.8 163.8) rotate(45)" fill="#f28a9c"><ellipse rx="2.6" ry="1.3"/><ellipse rx="1.3" ry="2.1"/></g>
<g transform="translate(118.9 182.3) rotate(45)" fill="#f28a9c"><ellipse rx="2.6" ry="1.3"/><ellipse rx="1.3" ry="2.1"/></g>
<g transform="translate(122.8 164.2) rotate(45)" fill="#f28a9c"><ellipse rx="2.6" ry="1.3"/><ellipse rx="1.3" ry="2.1"/></g>
<g transform="translate(133.2 168.6) rotate(45)" fill="#f28a9c"><ellipse rx="2.6" ry="1.3"/><ellipse rx="1.3" ry="2.1"/></g>
<g transform="translate(122.8 173.4) rotate(45)" fill="#f28a9c"><ellipse rx="2.6" ry="1.3"/><ellipse rx="1.3" ry="2.1"/></g>
<g transform="translate(67.9 187.2) rotate(45)" fill="#f28a9c"><ellipse rx="2.6" ry="1.3"/><ellipse rx="1.3" ry="2.1"/></g>
<g transform="translate(76.1 187.5) rotate(45)" fill="#f28a9c"><ellipse rx="2.6" ry="1.3"/><ellipse rx="1.3" ry="2.1"/></g>
<g transform="translate(84.6 187.3) rotate(45)" fill="#f28a9c"><ellipse rx="2.6" ry="1.3"/><ellipse rx="1.3" ry="2.1"/></g>
<g transform="translate(94.9 188.0) rotate(45)" fill="#f28a9c"><ellipse rx="2.6" ry="1.3"/><ellipse rx="1.3" ry="2.1"/></g>
<g transform="translate(102.9 186.8) rotate(45)" fill="#f28a9c"><ellipse rx="2.6" ry="1.3"/><ellipse rx="1.3" ry="2.1"/></g>
<g transform="translate(112.1 188.0) rotate(45)" fill="#f28a9c"><ellipse rx="2.6" ry="1.3"/><ellipse rx="1.3" ry="2.1"/></g>
<g transform="translate(122.8 186.2) rotate(45)" fill="#f28a9c"><ellipse rx="2.6" ry="1.3"/><ellipse rx="1.3" ry="2.1"/></g>
<g transform="translate(69.4 192.8) rotate(45)" fill="#f28a9c"><ellipse rx="2.6" ry="1.3"/><ellipse rx="1.3" ry="2.1"/></g>
<g transform="translate(77.9 193.2) rotate(45)" fill="#f28a9c"><ellipse rx="2.6" ry="1.3"/><ellipse rx="1.3" ry="2.1"/></g>
<g transform="translate(86.7 193.8) rotate(45)" fill="#f28a9c"><ellipse rx="2.6" ry="1.3"/><ellipse rx="1.3" ry="2.1"/></g>
<g transform="translate(97.0 194.7) rotate(45)" fill="#f28a9c"><ellipse rx="2.6" ry="1.3"/><ellipse rx="1.3" ry="2.1"/></g>
<g transform="translate(106.4 194.2) rotate(45)" fill="#f28a9c"><ellipse rx="2.6" ry="1.3"/><ellipse rx="1.3" ry="2.1"/></g>
<g transform="translate(115.6 194.2) rotate(45)" fill="#f28a9c"><ellipse rx="2.6" ry="1.3"/><ellipse rx="1.3" ry="2.1"/></g>
<g transform="translate(124.7 193.3) rotate(45)" fill="#f28a9c"><ellipse rx="2.6" ry="1.3"/><ellipse rx="1.3" ry="2.1"/></g>
<g transform="translate(66.3 199.4) rotate(45)" fill="#f28a9c"><ellipse rx="2.6" ry="1.3"/><ellipse rx="1.3" ry="2.1"/></g>
<g transform="translate(76.7 200.2) rotate(45)" fill="#f28a9c"><ellipse rx="2.6" ry="1.3"/><ellipse rx="1.3" ry="2.1"/></g>
<g transform="translate(86.2 200.1) rotate(45)" fill="#f28a9c"><ellipse rx="2.6" ry="1.3"/><ellipse rx="1.3" ry="2.1"/></g>
<g transform="translate(95.7 201.2) rotate(45)" fill="#f28a9c"><ellipse rx="2.6" ry="1.3"/><ellipse rx="1.3" ry="2.1"/></g>
<g transform="translate(102.7 199.7) rotate(45)" fill="#f28a9c"><ellipse rx="2.6" ry="1.3"/><ellipse rx="1.3" ry="2.1"/></g>
<g transform="translate(114.1 200.3) rotate(45)" fill="#f28a9c"><ellipse rx="2.6" ry="1.3"/><ellipse rx="1.3" ry="2.1"/></g>
<g transform="translate(123.5 200.2) rotate(45)" fill="#f28a9c"><ellipse rx="2.6" ry="1.3"/><ellipse rx="1.3" ry="2.1"/></g>
<g transform="translate(130.6 200.7) rotate(45)" fill="#f28a9c"><ellipse rx="2.6" ry="1.3"/><ellipse rx="1.3" ry="2.1"/></g>
<g transform="translate(59.1 206.5) rotate(45)" fill="#f28a9c"><ellipse rx="2.6" ry="1.3"/><ellipse rx="1.3" ry="2.1"/></g>
<g transform="translate(70.5 207.6) rotate(45)" fill="#f28a9c"><ellipse rx="2.6" ry="1.3"/><ellipse rx="1.3" ry="2.1"/></g>
<g transform="translate(77.7 206.3) rotate(45)" fill="#f28a9c"><ellipse rx="2.6" ry="1.3"/><ellipse rx="1.3" ry="2.1"/></g>
<g transform="translate(86.9 205.9) rotate(45)" fill="#f28a9c"><ellipse rx="2.6" ry="1.3"/><ellipse rx="1.3" ry="2.1"/></g>
<g transform="translate(97.8 206.2) rotate(45)" fill="#f28a9c"><ellipse rx="2.6" ry="1.3"/><ellipse rx="1.3" ry="2.1"/></g>
<g transform="translate(106.5 206.8) rotate(45)" fill="#f28a9c"><ellipse rx="2.6" ry="1.3"/><ellipse rx="1.3" ry="2.1"/></g>
<g transform="translate(114.9 207.5) rotate(45)" fill="#f28a9c"><ellipse rx="2.6" ry="1.3"/><ellipse rx="1.3" ry="2.1"/></g>
<g transform="translate(124.0 207.3) rotate(45)" fill="#f28a9c"><ellipse rx="2.6" ry="1.3"/><ellipse rx="1.3" ry="2.1"/></g>
<g transform="translate(133.2 206.8) rotate(45)" fill="#f28a9c"><ellipse rx="2.6" ry="1.3"/><ellipse rx="1.3" ry="2.1"/></g>
<g transform="translate(58.7 214.2) rotate(45)" fill="#f28a9c"><ellipse rx="2.6" ry="1.3"/><ellipse rx="1.3" ry="2.1"/></g>
<g transform="translate(66.4 214.4) rotate(45)" fill="#f28a9c"><ellipse rx="2.6" ry="1.3"/><ellipse rx="1.3" ry="2.1"/></g>
<g transform="translate(75.4 213.2) rotate(45)" fill="#f28a9c"><ellipse rx="2.6" ry="1.3"/><ellipse rx="1.3" ry="2.1"/></g>
<g transform="translate(86.2 213.8) rotate(45)" fill="#f28a9c"><ellipse rx="2.6" ry="1.3"/><ellipse rx="1.3" ry="2.1"/></g>
<g transform="translate(93.6 214.7) rotate(45)" fill="#f28a9c"><ellipse rx="2.6" ry="1.3"/><ellipse rx="1.3" ry="2.1"/></g>
<g transform="translate(103.2 212.9) rotate(45)" fill="#f28a9c"><ellipse rx="2.6" ry="1.3"/><ellipse rx="1.3" ry="2.1"/></g>
<g transform="translate(113.8 213.1) rotate(45)" fill="#f28a9c"><ellipse rx="2.6" ry="1.3"/><ellipse rx="1.3" ry="2.1"/></g>
<g transform="translate(121.9 212.5) rotate(45)" fill="#f28a9c"><ellipse rx="2.6" ry="1.3"/><ellipse rx="1.3" ry="2.1"/></g>
<g transform="translate(130.6 213.7) rotate(45)" fill="#f28a9c"><ellipse rx="2.6" ry="1.3"/><ellipse rx="1.3" ry="2.1"/></g>
<g transform="translate(59.8 219.9) rotate(45)" fill="#f28a9c"><ellipse rx="2.6" ry="1.3"/><ellipse rx="1.3" ry="2.1"/></g>
<g transform="translate(70.5 220.0) rotate(45)" fill="#f28a9c"><ellipse rx="2.6" ry="1.3"/><ellipse rx="1.3" ry="2.1"/></g>
<g transform="translate(78.8 220.9) rotate(45)" fill="#f28a9c"><ellipse rx="2.6" ry="1.3"/><ellipse rx="1.3" ry="2.1"/></g>
<g transform="translate(87.1 219.2) rotate(45)" fill="#f28a9c"><ellipse rx="2.6" ry="1.3"/><ellipse rx="1.3" ry="2.1"/></g>
<g transform="translate(98.1 220.8) rotate(45)" fill="#f28a9c"><ellipse rx="2.6" ry="1.3"/><ellipse rx="1.3" ry="2.1"/></g>
<g transform="translate(105.7 219.3) rotate(45)" fill="#f28a9c"><ellipse rx="2.6" ry="1.3"/><ellipse rx="1.3" ry="2.1"/></g>
<g transform="translate(116.2 221.1) rotate(45)" fill="#f28a9c"><ellipse rx="2.6" ry="1.3"/><ellipse rx="1.3" ry="2.1"/></g>
<g transform="translate(124.1 221.1) rotate(45)" fill="#f28a9c"><ellipse rx="2.6" ry="1.3"/><ellipse rx="1.3" ry="2.1"/></g>
<g transform="translate(135.0 220.3) rotate(45)" fill="#f28a9c"><ellipse rx="2.6" ry="1.3"/><ellipse rx="1.3" ry="2.1"/></g>
<g transform="translate(56.5 227.7) rotate(45)" fill="#f28a9c"><ellipse rx="2.6" ry="1.3"/><ellipse rx="1.3" ry="2.1"/></g>
<g transform="translate(66.2 227.1) rotate(45)" fill="#f28a9c"><ellipse rx="2.6" ry="1.3"/><ellipse rx="1.3" ry="2.1"/></g>
<g transform="translate(75.5 227.4) rotate(45)" fill="#f28a9c"><ellipse rx="2.6" ry="1.3"/><ellipse rx="1.3" ry="2.1"/></g>
<g transform="translate(85.6 226.1) rotate(45)" fill="#f28a9c"><ellipse rx="2.6" ry="1.3"/><ellipse rx="1.3" ry="2.1"/></g>
<g transform="translate(93.8 227.1) rotate(45)" fill="#f28a9c"><ellipse rx="2.6" ry="1.3"/><ellipse rx="1.3" ry="2.1"/></g>
<g transform="translate(102.8 225.9) rotate(45)" fill="#f28a9c"><ellipse rx="2.6" ry="1.3"/><ellipse rx="1.3" ry="2.1"/></g>
<g transform="translate(113.2 227.4) rotate(45)" fill="#f28a9c"><ellipse rx="2.6" ry="1.3"/><ellipse rx="1.3" ry="2.1"/></g>
<g transform="translate(122.6 226.1) rotate(45)" fill="#f28a9c"><ellipse rx="2.6" ry="1.3"/><ellipse rx="1.3" ry="2.1"/></g>
<g transform="translate(132.6 225.9) rotate(45)" fill="#f28a9c"><ellipse rx="2.6" ry="1.3"/><ellipse rx="1.3" ry="2.1"/></g>
<g transform="translate(139.7 226.0) rotate(45)" fill="#f28a9c"><ellipse rx="2.6" ry="1.3"/><ellipse rx="1.3" ry="2.1"/></g>
<g transform="translate(60.0 232.1) rotate(45)" fill="#f28a9c"><ellipse rx="2.6" ry="1.3"/><ellipse rx="1.3" ry="2.1"/></g>
<g transform="translate(68.6 232.8) rotate(45)" fill="#f28a9c"><ellipse rx="2.6" ry="1.3"/><ellipse rx="1.3" ry="2.1"/></g>
<g transform="translate(78.8 232.3) rotate(45)" fill="#f28a9c"><ellipse rx="2.6" ry="1.3"/><ellipse rx="1.3" ry="2.1"/></g>
<g transform="translate(87.5 234.1) rotate(45)" fill="#f28a9c"><ellipse rx="2.6" ry="1.3"/><ellipse rx="1.3" ry="2.1"/></g>
<g transform="translate(98.3 233.5) rotate(45)" fill="#f28a9c"><ellipse rx="2.6" ry="1.3"/><ellipse rx="1.3" ry="2.1"/></g>
<g transform="translate(106.8 233.4) rotate(45)" fill="#f28a9c"><ellipse rx="2.6" ry="1.3"/><ellipse rx="1.3" ry="2.1"/></g>
<g transform="translate(114.7 232.0) rotate(45)" fill="#f28a9c"><ellipse rx="2.6" ry="1.3"/><ellipse rx="1.3" ry="2.1"/></g>
<g transform="translate(123.7 234.1) rotate(45)" fill="#f28a9c"><ellipse rx="2.6" ry="1.3"/><ellipse rx="1.3" ry="2.1"/></g>
<g transform="translate(134.6 234.3) rotate(45)" fill="#f28a9c"><ellipse rx="2.6" ry="1.3"/><ellipse rx="1.3" ry="2.1"/></g>
<g transform="translate(57.6 240.3) rotate(45)" fill="#f28a9c"><ellipse rx="2.6" ry="1.3"/><ellipse rx="1.3" ry="2.1"/></g>
<g transform="translate(66.4 240.9) rotate(45)" fill="#f28a9c"><ellipse rx="2.6" ry="1.3"/><ellipse rx="1.3" ry="2.1"/></g>
<g transform="translate(75.1 239.8) rotate(45)" fill="#f28a9c"><ellipse rx="2.6" ry="1.3"/><ellipse rx="1.3" ry="2.1"/></g>
<g transform="translate(85.9 240.7) rotate(45)" fill="#f28a9c"><ellipse rx="2.6" ry="1.3"/><ellipse rx="1.3" ry="2.1"/></g>
<g transform="translate(95.2 240.2) rotate(45)" fill="#f28a9c"><ellipse rx="2.6" ry="1.3"/><ellipse rx="1.3" ry="2.1"/></g>
<g transform="translate(104.6 240.7) rotate(45)" fill="#f28a9c"><ellipse rx="2.6" ry="1.3"/><ellipse rx="1.3" ry="2.1"/></g>
<g transform="translate(112.7 240.1) rotate(45)" fill="#f28a9c"><ellipse rx="2.6" ry="1.3"/><ellipse rx="1.3" ry="2.1"/></g>
<g transform="translate(123.3 240.6) rotate(45)" fill="#f28a9c"><ellipse rx="2.6" ry="1.3"/><ellipse rx="1.3" ry="2.1"/></g>
<g transform="translate(131.4 240.4) rotate(45)" fill="#f28a9c"><ellipse rx="2.6" ry="1.3"/><ellipse rx="1.3" ry="2.1"/></g>
<g transform="translate(60.4 246.0) rotate(45)" fill="#f28a9c"><ellipse rx="2.6" ry="1.3"/><ellipse rx="1.3" ry="2.1"/></g>
<g transform="translate(69.5 246.5) rotate(45)" fill="#f28a9c"><ellipse rx="2.6" ry="1.3"/><ellipse rx="1.3" ry="2.1"/></g>
<g transform="translate(77.6 246.6) rotate(45)" fill="#f28a9c"><ellipse rx="2.6" ry="1.3"/><ellipse rx="1.3" ry="2.1"/></g>
<g transform="translate(89.0 247.2) rotate(45)" fill="#f28a9c"><ellipse rx="2.6" ry="1.3"/><ellipse rx="1.3" ry="2.1"/></g>
<g transform="translate(97.6 246.0) rotate(45)" fill="#f28a9c"><ellipse rx="2.6" ry="1.3"/><ellipse rx="1.3" ry="2.1"/></g>
<g transform="translate(106.9 246.4) rotate(45)" fill="#f28a9c"><ellipse rx="2.6" ry="1.3"/><ellipse rx="1.3" ry="2.1"/></g>
<g transform="translate(115.5 247.1) rotate(45)" fill="#f28a9c"><ellipse rx="2.6" ry="1.3"/><ellipse rx="1.3" ry="2.1"/></g>
<g transform="translate(123.9 246.9) rotate(45)" fill="#f28a9c"><ellipse rx="2.6" ry="1.3"/><ellipse rx="1.3" ry="2.1"/></g>
<g transform="translate(133.0 246.5) rotate(45)" fill="#f28a9c"><ellipse rx="2.6" ry="1.3"/><ellipse rx="1.3" ry="2.1"/></g>
<g transform="translate(58.1 252.8) rotate(45)" fill="#f28a9c"><ellipse rx="2.6" ry="1.3"/><ellipse rx="1.3" ry="2.1"/></g>
<g transform="translate(67.1 253.8) rotate(45)" fill="#f28a9c"><ellipse rx="2.6" ry="1.3"/><ellipse rx="1.3" ry="2.1"/></g>
<g transform="translate(75.5 251.6) rotate(45)" fill="#f28a9c"><ellipse rx="2.6" ry="1.3"/><ellipse rx="1.3" ry="2.1"/></g>
<g transform="translate(84.9 253.2) rotate(45)" fill="#f28a9c"><ellipse rx="2.6" ry="1.3"/><ellipse rx="1.3" ry="2.1"/></g>
<g transform="translate(93.9 252.0) rotate(45)" fill="#f28a9c"><ellipse rx="2.6" ry="1.3"/><ellipse rx="1.3" ry="2.1"/></g>
<g transform="translate(104.8 253.2) rotate(45)" fill="#f28a9c"><ellipse rx="2.6" ry="1.3"/><ellipse rx="1.3" ry="2.1"/></g>
<g transform="translate(113.0 253.7) rotate(45)" fill="#f28a9c"><ellipse rx="2.6" ry="1.3"/><ellipse rx="1.3" ry="2.1"/></g>
<g transform="translate(121.9 253.2) rotate(45)" fill="#f28a9c"><ellipse rx="2.6" ry="1.3"/><ellipse rx="1.3" ry="2.1"/></g>
<g transform="translate(130.9 252.6) rotate(45)" fill="#f28a9c"><ellipse rx="2.6" ry="1.3"/><ellipse rx="1.3" ry="2.1"/></g>
<g transform="translate(61.0 259.1) rotate(45)" fill="#f28a9c"><ellipse rx="2.6" ry="1.3"/><ellipse rx="1.3" ry="2.1"/></g>
<g transform="translate(69.5 258.9) rotate(45)" fill="#f28a9c"><ellipse rx="2.6" ry="1.3"/><ellipse rx="1.3" ry="2.1"/></g>
<g transform="translate(77.7 259.3) rotate(45)" fill="#f28a9c"><ellipse rx="2.6" ry="1.3"/><ellipse rx="1.3" ry="2.1"/></g>
<g transform="translate(88.7 260.2) rotate(45)" fill="#f28a9c"><ellipse rx="2.6" ry="1.3"/><ellipse rx="1.3" ry="2.1"/></g>
<g transform="translate(97.6 260.4) rotate(45)" fill="#f28a9c"><ellipse rx="2.6" ry="1.3"/><ellipse rx="1.3" ry="2.1"/></g>
<g transform="translate(105.8 258.6) rotate(45)" fill="#f28a9c"><ellipse rx="2.6" ry="1.3"/><ellipse rx="1.3" ry="2.1"/></g>
<g transform="translate(115.5 258.8) rotate(45)" fill="#f28a9c"><ellipse rx="2.6" ry="1.3"/><ellipse rx="1.3" ry="2.1"/></g>
<g transform="translate(124.2 259.1) rotate(45)" fill="#f28a9c"><ellipse rx="2.6" ry="1.3"/><ellipse rx="1.3" ry="2.1"/></g>
<g transform="translate(134.4 259.3) rotate(45)" fill="#f28a9c"><ellipse rx="2.6" ry="1.3"/><ellipse rx="1.3" ry="2.1"/></g>
<g transform="translate(58.8 265.8) rotate(45)" fill="#f28a9c"><ellipse rx="2.6" ry="1.3"/><ellipse rx="1.3" ry="2.1"/></g>
<g transform="translate(65.8 264.8) rotate(45)" fill="#f28a9c"><ellipse rx="2.6" ry="1.3"/><ellipse rx="1.3" ry="2.1"/></g>
<g transform="translate(77.0 264.8) rotate(45)" fill="#f28a9c"><ellipse rx="2.6" ry="1.3"/><ellipse rx="1.3" ry="2.1"/></g>
<g transform="translate(85.9 266.1) rotate(45)" fill="#f28a9c"><ellipse rx="2.6" ry="1.3"/><ellipse rx="1.3" ry="2.1"/></g>
<g transform="translate(94.1 266.6) rotate(45)" fill="#f28a9c"><ellipse rx="2.6" ry="1.3"/><ellipse rx="1.3" ry="2.1"/></g>
<g transform="translate(102.7 265.0) rotate(45)" fill="#f28a9c"><ellipse rx="2.6" ry="1.3"/><ellipse rx="1.3" ry="2.1"/></g>
<g transform="translate(113.0 264.8) rotate(45)" fill="#f28a9c"><ellipse rx="2.6" ry="1.3"/><ellipse rx="1.3" ry="2.1"/></g>
<g transform="translate(123.1 265.3) rotate(45)" fill="#f28a9c"><ellipse rx="2.6" ry="1.3"/><ellipse rx="1.3" ry="2.1"/></g>
<g transform="translate(130.7 264.8) rotate(45)" fill="#f28a9c"><ellipse rx="2.6" ry="1.3"/><ellipse rx="1.3" ry="2.1"/></g>
<g transform="translate(60.4 272.8) rotate(45)" fill="#f28a9c"><ellipse rx="2.6" ry="1.3"/><ellipse rx="1.3" ry="2.1"/></g>
<g transform="translate(70.1 273.6) rotate(45)" fill="#f28a9c"><ellipse rx="2.6" ry="1.3"/><ellipse rx="1.3" ry="2.1"/></g>
<g transform="translate(79.0 271.7) rotate(45)" fill="#f28a9c"><ellipse rx="2.6" ry="1.3"/><ellipse rx="1.3" ry="2.1"/></g>
<g transform="translate(87.8 271.7) rotate(45)" fill="#f28a9c"><ellipse rx="2.6" ry="1.3"/><ellipse rx="1.3" ry="2.1"/></g>
<g transform="translate(95.9 272.4) rotate(45)" fill="#f28a9c"><ellipse rx="2.6" ry="1.3"/><ellipse rx="1.3" ry="2.1"/></g>
<g transform="translate(106.9 271.7) rotate(45)" fill="#f28a9c"><ellipse rx="2.6" ry="1.3"/><ellipse rx="1.3" ry="2.1"/></g>
<g transform="translate(115.1 272.1) rotate(45)" fill="#f28a9c"><ellipse rx="2.6" ry="1.3"/><ellipse rx="1.3" ry="2.1"/></g>
<g transform="translate(125.3 272.5) rotate(45)" fill="#f28a9c"><ellipse rx="2.6" ry="1.3"/><ellipse rx="1.3" ry="2.1"/></g>
<g transform="translate(134.4 273.1) rotate(45)" fill="#f28a9c"><ellipse rx="2.6" ry="1.3"/><ellipse rx="1.3" ry="2.1"/></g>
<g transform="translate(57.6 182.5) rotate(45)" fill="#f28a9c"><ellipse rx="2.6" ry="1.3"/><ellipse rx="1.3" ry="2.1"/></g>
<g transform="translate(68.0 182.5) rotate(45)" fill="#f28a9c"><ellipse rx="2.6" ry="1.3"/><ellipse rx="1.3" ry="2.1"/></g>
<g transform="translate(81.6 182.5) rotate(45)" fill="#f28a9c"><ellipse rx="2.6" ry="1.3"/><ellipse rx="1.3" ry="2.1"/></g>
<g transform="translate(136.3 196.4) rotate(45)" fill="#f28a9c"><ellipse rx="2.6" ry="1.3"/><ellipse rx="1.3" ry="2.1"/></g>
<g transform="translate(127.6 196.4) rotate(45)" fill="#f28a9c"><ellipse rx="2.6" ry="1.3"/><ellipse rx="1.3" ry="2.1"/></g>
<g transform="translate(118.0 201.2) rotate(45)" fill="#f28a9c"><ellipse rx="2.6" ry="1.3"/><ellipse rx="1.3" ry="2.1"/></g>
<g transform="translate(128.4 210.0) rotate(45)" fill="#f28a9c"><ellipse rx="2.6" ry="1.3"/><ellipse rx="1.3" ry="2.1"/></g>
<g transform="translate(127.4 195.4) rotate(45)" fill="#f28a9c"><ellipse rx="2.6" ry="1.3"/><ellipse rx="1.3" ry="2.1"/></g>
<g transform="translate(138.2 196.1) rotate(45)" fill="#f28a9c"><ellipse rx="2.6" ry="1.3"/><ellipse rx="1.3" ry="2.1"/></g>
<g fill="#c874b4"><circle cx="30.1" cy="158.7" r="0.55"/><circle cx="31.3" cy="159.9" r="0.55"/><circle cx="53.1" cy="158.7" r="0.55"/><circle cx="54.3" cy="159.9" r="0.55"/><circle cx="47.7" cy="181.9" r="0.55"/><circle cx="48.9" cy="183.1" r="0.55"/><circle cx="15.8" cy="191.8" r="0.55"/><circle cx="17.0" cy="193.0" r="0.55"/><circle cx="38.9" cy="205.4" r="0.55"/><circle cx="40.1" cy="206.6" r="0.55"/><circle cx="48.5" cy="219.8" r="0.55"/><circle cx="49.7" cy="221.0" r="0.55"/><circle cx="19.8" cy="219.0" r="0.55"/><circle cx="21.0" cy="220.2" r="0.55"/><circle cx="38.9" cy="186.7" r="0.55"/><circle cx="40.1" cy="187.9" r="0.55"/><circle cx="47.7" cy="205.4" r="0.55"/><circle cx="48.9" cy="206.6" r="0.55"/><circle cx="47.7" cy="210.2" r="0.55"/><circle cx="48.9" cy="211.4" r="0.55"/><circle cx="29.4" cy="223.7" r="0.55"/><circle cx="30.6" cy="224.9" r="0.55"/><circle cx="34.1" cy="223.7" r="0.55"/><circle cx="35.3" cy="224.9" r="0.55"/><circle cx="34.9" cy="232.5" r="0.55"/><circle cx="36.1" cy="233.7" r="0.55"/><circle cx="38.9" cy="233.3" r="0.55"/><circle cx="40.1" cy="234.5" r="0.55"/><circle cx="47.7" cy="233.4" r="0.55"/><circle cx="48.9" cy="234.6" r="0.55"/><circle cx="30.1" cy="224.7" r="0.55"/><circle cx="31.3" cy="225.9" r="0.55"/><circle cx="35.9" cy="232.8" r="0.55"/><circle cx="37.1" cy="234.0" r="0.55"/><circle cx="38.2" cy="243.1" r="0.55"/><circle cx="39.4" cy="244.3" r="0.55"/><circle cx="33.6" cy="261.5" r="0.55"/><circle cx="34.8" cy="262.7" r="0.55"/><circle cx="29.0" cy="270.7" r="0.55"/><circle cx="30.2" cy="271.9" r="0.55"/><circle cx="48.5" cy="267.3" r="0.55"/><circle cx="49.7" cy="268.5" r="0.55"/><circle cx="49.7" cy="275.3" r="0.55"/><circle cx="50.9" cy="276.5" r="0.55"/><circle cx="20.9" cy="219.0" r="0.55"/><circle cx="22.1" cy="220.2" r="0.55"/><circle cx="85.7" cy="163.6" r="0.55"/><circle cx="86.9" cy="164.8" r="0.55"/><circle cx="76.2" cy="168.4" r="0.55"/><circle cx="77.4" cy="169.6" r="0.55"/><circle cx="71.4" cy="172.8" r="0.55"/><circle cx="72.6" cy="174.0" r="0.55"/><circle cx="85.7" cy="172.4" r="0.55"/><circle cx="86.9" cy="173.6" r="0.55"/><circle cx="94.5" cy="181.4" r="0.55"/><circle cx="95.7" cy="182.6" r="0.55"/><circle cx="90.5" cy="181.9" r="0.55"/><circle cx="91.7" cy="183.1" r="0.55"/><circle cx="103.4" cy="185.4" r="0.55"/><circle cx="104.6" cy="186.6" r="0.55"/><circle cx="108.4" cy="181.7" r="0.55"/><circle cx="109.6" cy="182.9" r="0.55"/><circle cx="76.2" cy="163.2" r="0.55"/><circle cx="77.4" cy="164.4" r="0.55"/><circle cx="118.3" cy="181.7" r="0.55"/><circle cx="119.5" cy="182.9" r="0.55"/><circle cx="122.2" cy="163.6" r="0.55"/><circle cx="123.4" cy="164.8" r="0.55"/><circle cx="132.6" cy="168.0" r="0.55"/><circle cx="133.8" cy="169.2" r="0.55"/><circle cx="122.2" cy="172.8" r="0.55"/><circle cx="123.4" cy="174.0" r="0.55"/><circle cx="67.3" cy="186.6" r="0.55"/><circle cx="68.5" cy="187.8" r="0.55"/><circle cx="75.5" cy="186.9" r="0.55"/><circle cx="76.7" cy="188.1" r="0.55"/><circle cx="84.0" cy="186.7" r="0.55"/><circle cx="85.2" cy="187.9" r="0.55"/><circle cx="94.3" cy="187.4" r="0.55"/><circle cx="95.5" cy="188.6" r="0.55"/><circle cx="102.3" cy="186.2" r="0.55"/><circle cx="103.5" cy="187.4" r="0.55"/><circle cx="111.5" cy="187.4" r="0.55"/><circle cx="112.7" cy="188.6" r="0.55"/><circle cx="122.2" cy="185.6" r="0.55"/><circle cx="123.4" cy="186.8" r="0.55"/><circle cx="68.8" cy="192.2" r="0.55"/><circle cx="70.0" cy="193.4" r="0.55"/><circle cx="77.3" cy="192.6" r="0.55"/><circle cx="78.5" cy="193.8" r="0.55"/><circle cx="86.1" cy="193.2" r="0.55"/><circle cx="87.3" cy="194.4" r="0.55"/><circle cx="96.4" cy="194.1" r="0.55"/><circle cx="97.6" cy="195.3" r="0.55"/><circle cx="105.8" cy="193.6" r="0.55"/><circle cx="107.0" cy="194.8" r="0.55"/><circle cx="115.0" cy="193.6" r="0.55"/><circle cx="116.2" cy="194.8" r="0.55"/><circle cx="124.1" cy="192.7" r="0.55"/><circle cx="125.3" cy="193.9" r="0.55"/><circle cx="65.7" cy="198.8" r="0.55"/><circle cx="66.9" cy="200.0" r="0.55"/><circle cx="76.1" cy="199.6" r="0.55"/><circle cx="77.3" cy="200.8" r="0.55"/><circle cx="85.6" cy="199.5" r="0.55"/><circle cx="86.8" cy="200.7" r="0.55"/><circle cx="95.1" cy="200.6" r="0.55"/><circle cx="96.3" cy="201.8" r="0.55"/><circle cx="102.1" cy="199.1" r="0.55"/><circle cx="103.3" cy="200.3" r="0.55"/><circle cx="113.5" cy="199.7" r="0.55"/><circle cx="114.7" cy="200.9" r="0.55"/><circle cx="122.9" cy="199.6" r="0.55"/><circle cx="124.1" cy="200.8" r="0.55"/><circle cx="130.0" cy="200.1" r="0.55"/><circle cx="131.2" cy="201.3" r="0.55"/><circle cx="58.5" cy="205.9" r="0.55"/><circle cx="59.7" cy="207.1" r="0.55"/><circle cx="69.9" cy="207.0" r="0.55"/><circle cx="71.1" cy="208.2" r="0.55"/><circle cx="77.1" cy="205.7" r="0.55"/><circle cx="78.3" cy="206.9" r="0.55"/><circle cx="86.3" cy="205.3" r="0.55"/><circle cx="87.5" cy="206.5" r="0.55"/><circle cx="97.2" cy="205.6" r="0.55"/><circle cx="98.4" cy="206.8" r="0.55"/><circle cx="105.9" cy="206.2" r="0.55"/><circle cx="107.1" cy="207.4" r="0.55"/><circle cx="114.3" cy="206.9" r="0.55"/><circle cx="115.5" cy="208.1" r="0.55"/><circle cx="123.4" cy="206.7" r="0.55"/><circle cx="124.6" cy="207.9" r="0.55"/><circle cx="132.6" cy="206.2" r="0.55"/><circle cx="133.8" cy="207.4" r="0.55"/><circle cx="58.1" cy="213.6" r="0.55"/><circle cx="59.3" cy="214.8" r="0.55"/><circle cx="65.8" cy="213.8" r="0.55"/><circle cx="67.0" cy="215.0" r="0.55"/><circle cx="74.8" cy="212.6" r="0.55"/><circle cx="76.0" cy="213.8" r="0.55"/><circle cx="85.6" cy="213.2" r="0.55"/><circle cx="86.8" cy="214.4" r="0.55"/><circle cx="93.0" cy="214.1" r="0.55"/><circle cx="94.2" cy="215.3" r="0.55"/><circle cx="102.6" cy="212.3" r="0.55"/><circle cx="103.8" cy="213.5" r="0.55"/><circle cx="113.2" cy="212.5" r="0.55"/><circle cx="114.4" cy="213.7" r="0.55"/><circle cx="121.3" cy="211.9" r="0.55"/><circle cx="122.5" cy="213.1" r="0.55"/><circle cx="130.0" cy="213.1" r="0.55"/><circle cx="131.2" cy="214.3" r="0.55"/><circle cx="59.2" cy="219.3" r="0.55"/><circle cx="60.4" cy="220.5" r="0.55"/><circle cx="69.9" cy="219.4" r="0.55"/><circle cx="71.1" cy="220.6" r="0.55"/><circle cx="78.2" cy="220.3" r="0.55"/><circle cx="79.4" cy="221.5" r="0.55"/><circle cx="86.5" cy="218.6" r="0.55"/><circle cx="87.7" cy="219.8" r="0.55"/><circle cx="97.5" cy="220.2" r="0.55"/><circle cx="98.7" cy="221.4" r="0.55"/><circle cx="105.1" cy="218.7" r="0.55"/><circle cx="106.3" cy="219.9" r="0.55"/><circle cx="115.6" cy="220.5" r="0.55"/><circle cx="116.8" cy="221.7" r="0.55"/><circle cx="123.5" cy="220.5" r="0.55"/><circle cx="124.7" cy="221.7" r="0.55"/><circle cx="134.4" cy="219.7" r="0.55"/><circle cx="135.6" cy="220.9" r="0.55"/><circle cx="55.9" cy="227.1" r="0.55"/><circle cx="57.1" cy="228.3" r="0.55"/><circle cx="65.6" cy="226.5" r="0.55"/><circle cx="66.8" cy="227.7" r="0.55"/><circle cx="74.9" cy="226.8" r="0.55"/><circle cx="76.1" cy="228.0" r="0.55"/><circle cx="85.0" cy="225.5" r="0.55"/><circle cx="86.2" cy="226.7" r="0.55"/><circle cx="93.2" cy="226.5" r="0.55"/><circle cx="94.4" cy="227.7" r="0.55"/><circle cx="102.2" cy="225.3" r="0.55"/><circle cx="103.4" cy="226.5" r="0.55"/><circle cx="112.6" cy="226.8" r="0.55"/><circle cx="113.8" cy="228.0" r="0.55"/><circle cx="122.0" cy="225.5" r="0.55"/><circle cx="123.2" cy="226.7" r="0.55"/><circle cx="132.0" cy="225.3" r="0.55"/><circle cx="133.2" cy="226.5" r="0.55"/><circle cx="139.1" cy="225.4" r="0.55"/><circle cx="140.3" cy="226.6" r="0.55"/><circle cx="59.4" cy="231.5" r="0.55"/><circle cx="60.6" cy="232.7" r="0.55"/><circle cx="68.0" cy="232.2" r="0.55"/><circle cx="69.2" cy="233.4" r="0.55"/><circle cx="78.2" cy="231.7" r="0.55"/><circle cx="79.4" cy="232.9" r="0.55"/><circle cx="86.9" cy="233.5" r="0.55"/><circle cx="88.1" cy="234.7" r="0.55"/><circle cx="97.7" cy="232.9" r="0.55"/><circle cx="98.9" cy="234.1" r="0.55"/><circle cx="106.2" cy="232.8" r="0.55"/><circle cx="107.4" cy="234.0" r="0.55"/><circle cx="114.1" cy="231.4" r="0.55"/><circle cx="115.3" cy="232.6" r="0.55"/><circle cx="123.1" cy="233.5" r="0.55"/><circle cx="124.3" cy="234.7" r="0.55"/><circle cx="134.0" cy="233.7" r="0.55"/><circle cx="135.2" cy="234.9" r="0.55"/><circle cx="57.0" cy="239.7" r="0.55"/><circle cx="58.2" cy="240.9" r="0.55"/><circle cx="65.8" cy="240.3" r="0.55"/><circle cx="67.0" cy="241.5" r="0.55"/><circle cx="74.5" cy="239.2" r="0.55"/><circle cx="75.7" cy="240.4" r="0.55"/><circle cx="85.3" cy="240.1" r="0.55"/><circle cx="86.5" cy="241.3" r="0.55"/><circle cx="94.6" cy="239.6" r="0.55"/><circle cx="95.8" cy="240.8" r="0.55"/><circle cx="104.0" cy="240.1" r="0.55"/><circle cx="105.2" cy="241.3" r="0.55"/><circle cx="112.1" cy="239.5" r="0.55"/><circle cx="113.3" cy="240.7" r="0.55"/><circle cx="122.7" cy="240.0" r="0.55"/><circle cx="123.9" cy="241.2" r="0.55"/><circle cx="130.8" cy="239.8" r="0.55"/><circle cx="132.0" cy="241.0" r="0.55"/><circle cx="59.8" cy="245.4" r="0.55"/><circle cx="61.0" cy="246.6" r="0.55"/><circle cx="68.9" cy="245.9" r="0.55"/><circle cx="70.1" cy="247.1" r="0.55"/><circle cx="77.0" cy="246.0" r="0.55"/><circle cx="78.2" cy="247.2" r="0.55"/><circle cx="88.4" cy="246.6" r="0.55"/><circle cx="89.6" cy="247.8" r="0.55"/><circle cx="97.0" cy="245.4" r="0.55"/><circle cx="98.2" cy="246.6" r="0.55"/><circle cx="106.3" cy="245.8" r="0.55"/><circle cx="107.5" cy="247.0" r="0.55"/><circle cx="114.9" cy="246.5" r="0.55"/><circle cx="116.1" cy="247.7" r="0.55"/><circle cx="123.3" cy="246.3" r="0.55"/><circle cx="124.5" cy="247.5" r="0.55"/><circle cx="132.4" cy="245.9" r="0.55"/><circle cx="133.6" cy="247.1" r="0.55"/><circle cx="57.5" cy="252.2" r="0.55"/><circle cx="58.7" cy="253.4" r="0.55"/><circle cx="66.5" cy="253.2" r="0.55"/><circle cx="67.7" cy="254.4" r="0.55"/><circle cx="74.9" cy="251.0" r="0.55"/><circle cx="76.1" cy="252.2" r="0.55"/><circle cx="84.3" cy="252.6" r="0.55"/><circle cx="85.5" cy="253.8" r="0.55"/><circle cx="93.3" cy="251.4" r="0.55"/><circle cx="94.5" cy="252.6" r="0.55"/><circle cx="104.2" cy="252.6" r="0.55"/><circle cx="105.4" cy="253.8" r="0.55"/><circle cx="112.4" cy="253.1" r="0.55"/><circle cx="113.6" cy="254.3" r="0.55"/><circle cx="121.3" cy="252.6" r="0.55"/><circle cx="122.5" cy="253.8" r="0.55"/><circle cx="130.3" cy="252.0" r="0.55"/><circle cx="131.5" cy="253.2" r="0.55"/><circle cx="60.4" cy="258.5" r="0.55"/><circle cx="61.6" cy="259.7" r="0.55"/><circle cx="68.9" cy="258.3" r="0.55"/><circle cx="70.1" cy="259.5" r="0.55"/><circle cx="77.1" cy="258.7" r="0.55"/><circle cx="78.3" cy="259.9" r="0.55"/><circle cx="88.1" cy="259.6" r="0.55"/><circle cx="89.3" cy="260.8" r="0.55"/><circle cx="97.0" cy="259.8" r="0.55"/><circle cx="98.2" cy="261.0" r="0.55"/><circle cx="105.2" cy="258.0" r="0.55"/><circle cx="106.4" cy="259.2" r="0.55"/><circle cx="114.9" cy="258.2" r="0.55"/><circle cx="116.1" cy="259.4" r="0.55"/><circle cx="123.6" cy="258.5" r="0.55"/><circle cx="124.8" cy="259.7" r="0.55"/><circle cx="133.8" cy="258.7" r="0.55"/><circle cx="135.0" cy="259.9" r="0.55"/><circle cx="58.2" cy="265.2" r="0.55"/><circle cx="59.4" cy="266.4" r="0.55"/><circle cx="65.2" cy="264.2" r="0.55"/><circle cx="66.4" cy="265.4" r="0.55"/><circle cx="76.4" cy="264.2" r="0.55"/><circle cx="77.6" cy="265.4" r="0.55"/><circle cx="85.3" cy="265.5" r="0.55"/><circle cx="86.5" cy="266.7" r="0.55"/><circle cx="93.5" cy="266.0" r="0.55"/><circle cx="94.7" cy="267.2" r="0.55"/><circle cx="102.1" cy="264.4" r="0.55"/><circle cx="103.3" cy="265.6" r="0.55"/><circle cx="112.4" cy="264.2" r="0.55"/><circle cx="113.6" cy="265.4" r="0.55"/><circle cx="122.5" cy="264.7" r="0.55"/><circle cx="123.7" cy="265.9" r="0.55"/><circle cx="130.1" cy="264.2" r="0.55"/><circle cx="131.3" cy="265.4" r="0.55"/><circle cx="59.8" cy="272.2" r="0.55"/><circle cx="61.0" cy="273.4" r="0.55"/><circle cx="69.5" cy="273.0" r="0.55"/><circle cx="70.7" cy="274.2" r="0.55"/><circle cx="78.4" cy="271.1" r="0.55"/><circle cx="79.6" cy="272.3" r="0.55"/><circle cx="87.2" cy="271.1" r="0.55"/><circle cx="88.4" cy="272.3" r="0.55"/><circle cx="95.3" cy="271.8" r="0.55"/><circle cx="96.5" cy="273.0" r="0.55"/><circle cx="106.3" cy="271.1" r="0.55"/><circle cx="107.5" cy="272.3" r="0.55"/><circle cx="114.5" cy="271.5" r="0.55"/><circle cx="115.7" cy="272.7" r="0.55"/><circle cx="124.7" cy="271.9" r="0.55"/><circle cx="125.9" cy="273.1" r="0.55"/><circle cx="133.8" cy="272.5" r="0.55"/><circle cx="135.0" cy="273.7" r="0.55"/><circle cx="57.0" cy="181.9" r="0.55"/><circle cx="58.2" cy="183.1" r="0.55"/><circle cx="67.4" cy="181.9" r="0.55"/><circle cx="68.6" cy="183.1" r="0.55"/><circle cx="81.0" cy="181.9" r="0.55"/><circle cx="82.2" cy="183.1" r="0.55"/><circle cx="135.7" cy="195.8" r="0.55"/><circle cx="136.9" cy="197.0" r="0.55"/><circle cx="127.0" cy="195.8" r="0.55"/><circle cx="128.2" cy="197.0" r="0.55"/><circle cx="117.4" cy="200.6" r="0.55"/><circle cx="118.6" cy="201.8" r="0.55"/><circle cx="127.8" cy="209.4" r="0.55"/><circle cx="129.0" cy="210.6" r="0.55"/><circle cx="126.8" cy="194.8" r="0.55"/><circle cx="128.0" cy="196.0" r="0.55"/><circle cx="137.6" cy="195.5" r="0.55"/><circle cx="138.8" cy="196.7" r="0.55"/></g>
</g>
<path d="M4.2,148.8 H154.0" stroke="#8c8c8c" stroke-width="1.1"/>
<path d="M154.0,148.8 V285.2" stroke="#e4d4d4" stroke-width="0.6"/>
<path d="M4.2,148.3 V285.2 H154.0" stroke="#1a1a1a" stroke-width="0.9" fill="none"/>
<rect x="118.2" y="157.6" width="10.2" height="11.4" fill="none" stroke="#444" stroke-width="0.7" stroke-dasharray="2.2 1.2"/>
<path d="M118.6,158.3 L98.5,145.9" stroke="#111" stroke-width="1"/><polygon points="96.2,144.4 100.6,145.3 98.9,148" fill="#111"/>
<text x="12.6" y="142" font-size="8.3" class="lr" fill="#111">Nano-photonic antenna</text>
<text x="127.8" y="131" text-anchor="middle" class="lr" font-size="14.5" fill="#111">(<tspan font-weight="bold">a</tspan>)</text>
<text x="412.6" y="130.6" text-anchor="middle" class="lr" font-size="14.5" fill="#111">(<tspan font-weight="bold">b</tspan>)</text>
<text x="79" y="304.7" text-anchor="middle" class="lr" font-size="14.5" fill="#111">(<tspan font-weight="bold">c</tspan>)</text>
<text x="266.7" y="304.5" text-anchor="middle" class="lr" font-size="14.5" fill="#111">(<tspan font-weight="bold">d</tspan>)</text>
<text x="461.4" y="304.7" text-anchor="middle" class="lr" font-size="14.5" fill="#111">(<tspan font-weight="bold">e</tspan>)</text>
</svg>
</body></html>
